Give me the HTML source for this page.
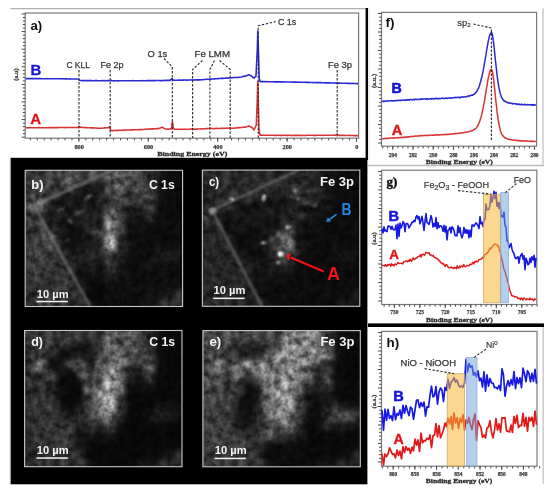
<!DOCTYPE html><html><head><meta charset="utf-8"><style>html,body{margin:0;padding:0;background:#fff;width:550px;height:493px;overflow:hidden}svg{display:block}</style></head><body><svg width="550" height="493" viewBox="0 0 550 493">
<rect width="550" height="493" fill="#fff"/>
<path d="M10.5,8.6 H366" stroke="#b0b0b0" stroke-width="1.4"/>
<rect x="365.6" y="8" width="2.4" height="152" fill="#000"/>
<rect x="25.2" y="13" width="333.40000000000003" height="125.19999999999999" fill="none" stroke="#7a7a7a" stroke-width="1.2"/>
<path d="M21.60,14.00 H25.2 M22.80,17.52 H25.2 M22.80,21.04 H25.2 M22.80,24.56 H25.2 M22.80,28.08 H25.2 M21.60,31.60 H25.2 M22.80,35.12 H25.2 M22.80,38.64 H25.2 M22.80,42.16 H25.2 M22.80,45.68 H25.2 M21.60,49.20 H25.2 M22.80,52.72 H25.2 M22.80,56.24 H25.2 M22.80,59.76 H25.2 M22.80,63.28 H25.2 M21.60,66.80 H25.2 M22.80,70.32 H25.2 M22.80,73.84 H25.2 M22.80,77.36 H25.2 M22.80,80.88 H25.2 M21.60,84.40 H25.2 M22.80,87.92 H25.2 M22.80,91.44 H25.2 M22.80,94.96 H25.2 M22.80,98.48 H25.2 M21.60,102.00 H25.2 M22.80,105.52 H25.2 M22.80,109.04 H25.2 M22.80,112.56 H25.2 M22.80,116.08 H25.2 M21.60,119.60 H25.2 M22.80,123.12 H25.2 M22.80,126.64 H25.2 M22.80,130.16 H25.2 M22.80,133.68 H25.2 M21.60,137.20 H25.2" stroke="#4a4a4a" stroke-width="1" fill="none"/>
<path d="M30.32,138.2 V140.40 M37.26,138.2 V140.40 M44.20,138.2 V140.40 M51.14,138.2 V140.40 M58.08,138.2 V140.40 M65.02,138.2 V140.40 M71.96,138.2 V140.40 M78.90,138.2 V140.40 M85.84,138.2 V140.40 M92.78,138.2 V140.40 M99.72,138.2 V140.40 M106.66,138.2 V140.40 M113.60,138.2 V140.40 M120.54,138.2 V140.40 M127.48,138.2 V140.40 M134.42,138.2 V140.40 M141.36,138.2 V140.40 M148.30,138.2 V140.40 M155.24,138.2 V140.40 M162.18,138.2 V140.40 M169.12,138.2 V140.40 M176.06,138.2 V140.40 M183.00,138.2 V140.40 M189.94,138.2 V140.40 M196.88,138.2 V140.40 M203.82,138.2 V140.40 M210.76,138.2 V140.40 M217.70,138.2 V140.40 M224.64,138.2 V140.40 M231.58,138.2 V140.40 M238.52,138.2 V140.40 M245.46,138.2 V140.40 M252.40,138.2 V140.40 M259.34,138.2 V140.40 M266.28,138.2 V140.40 M273.22,138.2 V140.40 M280.16,138.2 V140.40 M287.10,138.2 V140.40 M294.04,138.2 V140.40 M300.98,138.2 V140.40 M307.92,138.2 V140.40 M314.86,138.2 V140.40 M321.80,138.2 V140.40 M328.74,138.2 V140.40 M335.68,138.2 V140.40 M342.62,138.2 V140.40 M349.56,138.2 V140.40 M356.50,138.2 V140.40 M78.90,138.2 V141.80 M148.30,138.2 V141.80 M217.70,138.2 V141.80 M287.10,138.2 V141.80 M356.50,138.2 V141.80" stroke="#4a4a4a" stroke-width="1" fill="none"/>
<text x="79.1" y="148.8" font-size="6.2" fill="#3c3c3c" font-weight="bold" font-family="'Liberation Serif', 'Times New Roman', serif" text-anchor="middle"  textLength="9.45" lengthAdjust="spacingAndGlyphs" stroke="#3c3c3c" stroke-width="0.25">800</text>
<text x="148.5" y="148.8" font-size="6.2" fill="#3c3c3c" font-weight="bold" font-family="'Liberation Serif', 'Times New Roman', serif" text-anchor="middle"  textLength="9.45" lengthAdjust="spacingAndGlyphs" stroke="#3c3c3c" stroke-width="0.25">600</text>
<text x="217.9" y="148.8" font-size="6.2" fill="#3c3c3c" font-weight="bold" font-family="'Liberation Serif', 'Times New Roman', serif" text-anchor="middle"  textLength="9.45" lengthAdjust="spacingAndGlyphs" stroke="#3c3c3c" stroke-width="0.25">400</text>
<text x="287.3" y="148.8" font-size="6.2" fill="#3c3c3c" font-weight="bold" font-family="'Liberation Serif', 'Times New Roman', serif" text-anchor="middle"  textLength="9.45" lengthAdjust="spacingAndGlyphs" stroke="#3c3c3c" stroke-width="0.25">200</text>
<text x="356.7" y="148.8" font-size="6.2" fill="#3c3c3c" font-weight="bold" font-family="'Liberation Serif', 'Times New Roman', serif" text-anchor="middle"  textLength="3.15" lengthAdjust="spacingAndGlyphs" stroke="#3c3c3c" stroke-width="0.25">0</text>
<text x="157.3" y="156.0" font-size="6.9" fill="#2a2a2a" font-weight="bold" font-family="'Liberation Serif', 'Times New Roman', serif" text-anchor="start"  textLength="70" lengthAdjust="spacingAndGlyphs" stroke="#2a2a2a" stroke-width="0.3">Binding Energy (eV)</text>
<text x="16.2" y="74.6" font-size="6.6" fill="#333" font-weight="bold" font-family="'Liberation Serif', 'Times New Roman', serif" text-anchor="middle" transform="rotate(-90 16.2 74.6)" dy="2.2" textLength="12.4" lengthAdjust="spacingAndGlyphs" stroke="#333" stroke-width="0.2">(a.u)</text>
<text x="30.4" y="29.9" font-size="13.2" fill="#111" font-weight="bold" font-family="'Liberation Sans', Arial, sans-serif" text-anchor="start" >a)</text>
<text x="30.6" y="74.9" font-size="15" fill="#1414d8" font-weight="bold" font-family="'Liberation Sans', Arial, sans-serif" text-anchor="start"  stroke="#1414d8" stroke-width="0.3">B</text>
<text x="30.2" y="124.4" font-size="15" fill="#e0161c" font-weight="bold" font-family="'Liberation Sans', Arial, sans-serif" text-anchor="start"  stroke="#e0161c" stroke-width="0.3">A</text>
<path d="M25.50,78.58 L26.51,78.56 L27.53,78.63 L28.54,78.56 L29.56,78.63 L30.57,78.61 L31.59,78.57 L32.60,78.64 L33.62,78.58 L34.63,78.64 L35.65,78.60 L36.66,78.61 L37.68,78.66 L38.69,78.72 L39.71,78.63 L40.72,78.65 L41.74,78.71 L42.75,78.76 L43.76,78.72 L44.78,78.70 L45.79,78.78 L46.81,78.66 L47.82,78.78 L48.84,78.71 L49.85,78.69 L50.87,78.69 L51.88,78.73 L52.90,78.80 L53.91,78.72 L54.93,78.78 L55.94,78.80 L56.96,78.76 L57.97,78.79 L58.99,78.73 L60.00,78.74 L61.00,78.77 L62.00,78.85 L63.00,78.82 L64.00,78.82 L65.00,78.87 L66.00,78.86 L67.00,78.85 L68.00,78.93 L69.00,78.93 L70.00,78.88 L71.00,78.93 L72.00,78.94 L73.00,79.00 L74.00,78.99 L75.00,78.94 L76.00,79.05 L77.00,78.94 L78.00,78.99 L79.50,80.24 L81.00,80.55 L82.00,80.60 L83.00,80.54 L84.00,80.63 L85.00,80.65 L86.00,80.63 L87.00,80.67 L88.00,80.60 L89.00,80.65 L90.00,80.64 L91.00,80.65 L92.00,80.63 L93.00,80.69 L94.00,80.71 L95.00,80.64 L96.00,80.67 L97.00,80.59 L98.00,80.69 L99.00,80.68 L100.00,80.73 L101.00,80.71 L102.00,80.64 L103.00,80.66 L104.00,80.70 L105.00,80.62 L106.00,80.68 L107.00,80.64 L108.00,80.64 L109.00,80.63 L110.00,80.74 L111.00,80.35 L112.00,80.76 L113.00,80.78 L114.00,80.84 L115.00,80.73 L116.00,80.78 L117.00,80.79 L118.00,80.83 L119.00,80.82 L120.00,80.82 L121.00,80.73 L122.00,80.75 L123.00,80.73 L124.00,80.80 L125.00,80.81 L126.00,80.69 L127.00,80.69 L128.00,80.70 L129.00,80.69 L130.00,80.72 L131.00,80.73 L132.00,80.68 L133.00,80.64 L134.00,80.70 L135.00,80.69 L136.00,80.71 L137.00,80.76 L138.00,80.72 L139.00,80.69 L140.00,80.70 L141.00,80.70 L142.00,80.61 L143.00,80.73 L144.00,80.71 L145.00,80.71 L146.00,80.70 L147.00,80.64 L148.00,80.64 L149.00,80.59 L150.00,80.66 L151.00,80.58 L152.00,80.57 L153.00,80.59 L154.00,80.58 L155.00,80.60 L156.00,80.55 L157.00,80.54 L158.00,80.56 L159.00,80.55 L160.00,80.58 L161.00,80.50 L162.00,80.59 L163.00,80.53 L164.00,80.43 L165.00,80.42 L166.00,80.40 L167.00,80.37 L168.00,80.31 L169.00,80.38 L170.00,80.37 L171.00,79.45 L172.00,78.60 L173.50,80.24 L174.52,80.23 L175.54,80.24 L176.56,80.21 L177.58,80.27 L178.60,80.16 L179.62,80.12 L180.63,80.23 L181.65,80.15 L182.67,80.08 L183.69,80.11 L184.71,80.02 L185.73,80.07 L186.75,80.12 L187.77,80.08 L188.79,80.04 L189.81,79.96 L190.83,79.95 L191.85,79.91 L192.87,79.97 L193.88,79.92 L194.90,79.94 L195.92,79.85 L196.94,79.82 L197.96,79.88 L198.98,79.89 L200.00,79.85 L201.00,79.78 L202.00,79.71 L203.00,79.64 L204.00,79.50 L205.00,79.48 L206.00,79.39 L207.00,79.28 L208.00,79.21 L209.00,79.18 L210.00,79.12 L211.00,79.11 L212.00,79.08 L213.00,78.95 L214.00,78.95 L215.00,78.89 L216.00,78.82 L217.00,78.68 L218.00,78.59 L219.00,78.53 L220.00,78.46 L221.00,78.39 L222.00,78.39 L223.00,78.36 L224.00,78.29 L225.00,78.17 L226.00,78.13 L227.00,78.09 L228.00,77.92 L229.00,77.94 L230.00,77.91 L231.00,77.82 L232.00,77.76 L233.00,77.65 L234.00,77.54 L235.00,77.57 L236.00,77.44 L237.00,77.44 L238.00,77.40 L239.00,77.25 L240.00,77.19 L241.00,77.06 L242.00,76.83 L243.00,76.55 L244.00,76.35 L245.00,76.15 L246.00,75.86 L247.00,75.44 L248.00,74.95 L249.00,74.65 L250.00,75.30 L251.00,75.89 L252.00,76.48 L253.00,77.36 L254.00,78.15 L255.00,77.03 L256.00,76.07 L257.30,50.02 L257.80,31.00 L258.40,50.06 L259.20,77.99 L260.00,81.65 L261.00,81.66 L262.00,81.59 L263.00,81.61 L264.00,81.63 L265.00,81.64 L266.00,81.70 L267.00,81.67 L268.00,81.71 L269.00,81.68 L270.00,81.81 L271.00,81.74 L272.00,81.77 L273.00,81.81 L274.00,81.87 L275.00,81.81 L276.00,81.90 L277.00,81.86 L278.00,81.87 L279.00,81.89 L280.00,81.83 L281.00,81.91 L282.00,81.89 L283.00,81.88 L284.00,82.00 L285.00,81.93 L286.00,81.99 L287.00,82.04 L288.00,82.03 L289.00,82.01 L290.00,82.05 L291.00,82.07 L292.00,82.12 L293.00,82.04 L294.00,82.12 L295.00,82.09 L296.00,82.11 L297.00,82.19 L298.00,82.17 L299.00,82.19 L300.00,82.24 L301.00,82.28 L302.00,82.24 L303.00,82.29 L304.00,82.30 L305.00,82.32 L306.00,82.37 L307.00,82.36 L308.00,82.40 L309.00,82.41 L310.00,82.50 L311.00,82.49 L312.00,82.54 L313.00,82.58 L314.00,82.50 L315.00,82.57 L316.00,82.65 L317.00,82.66 L318.00,82.58 L319.00,82.61 L320.00,82.67 L321.00,82.65 L322.00,82.69 L323.00,82.70 L324.00,82.80 L325.00,82.84 L326.00,82.88 L327.00,82.80 L328.00,82.91 L329.00,82.92 L330.00,82.87 L331.00,83.00 L332.00,83.04 L333.00,82.96 L334.00,83.08 L335.00,83.03 L336.00,83.07 L337.00,83.16 L338.00,83.16 L339.00,83.09 L340.00,83.16 L341.00,83.19 L342.00,83.19 L343.00,83.20 L344.00,83.24 L345.00,83.32 L346.00,83.24 L347.00,83.34 L348.00,83.35 L349.00,83.32 L350.00,83.38 L351.00,83.45 L352.00,83.46 L353.00,83.42 L354.00,83.57 L355.00,83.57 L356.00,83.62 L357.00,83.52 L358.00,83.60" fill="none" stroke="#2a2ad4" stroke-width="1.6" stroke-linejoin="round" />
<path d="M25.50,127.77 L26.51,127.73 L27.53,127.83 L28.54,127.75 L29.56,127.72 L30.57,127.76 L31.59,127.82 L32.60,127.80 L33.62,127.72 L34.63,127.70 L35.65,127.80 L36.66,127.75 L37.68,127.76 L38.69,127.67 L39.71,127.66 L40.72,127.74 L41.74,127.70 L42.75,127.64 L43.76,127.76 L44.78,127.71 L45.79,127.72 L46.81,127.62 L47.82,127.72 L48.84,127.60 L49.85,127.71 L50.87,127.65 L51.88,127.62 L52.90,127.65 L53.91,127.70 L54.93,127.60 L55.94,127.57 L56.96,127.62 L57.97,127.58 L58.99,127.55 L60.00,127.55 L61.00,127.53 L62.00,127.55 L63.00,127.56 L64.00,127.55 L65.00,127.61 L66.00,127.54 L67.00,127.56 L68.00,127.51 L69.00,127.53 L70.00,127.48 L71.00,127.50 L72.00,127.47 L73.00,127.56 L74.00,127.53 L75.00,127.47 L76.00,127.51 L77.00,127.57 L78.00,127.44 L79.30,126.34 L80.50,127.29 L81.53,127.35 L82.55,127.45 L83.58,127.44 L84.61,127.51 L85.63,127.59 L86.66,127.68 L87.68,127.65 L88.71,127.77 L89.74,127.80 L90.76,127.85 L91.79,127.87 L92.82,127.91 L93.84,127.92 L94.87,127.99 L95.89,128.03 L96.92,128.18 L97.95,128.16 L98.97,128.20 L100.00,128.24 L101.06,128.26 L102.12,128.18 L103.19,128.06 L104.25,127.92 L105.31,127.83 L106.38,127.75 L107.44,127.68 L108.50,127.55 L109.60,126.59 L110.60,130.27 L112.00,130.66 L113.00,130.63 L114.00,130.54 L115.00,130.46 L116.00,130.52 L117.00,130.39 L118.00,130.37 L119.00,130.28 L120.00,130.30 L121.00,130.28 L122.00,130.24 L123.00,130.17 L124.00,130.17 L125.00,130.07 L126.00,130.07 L127.00,130.01 L128.00,130.01 L129.00,129.93 L130.00,129.89 L131.00,129.89 L132.00,129.85 L133.00,129.86 L134.00,129.82 L135.00,129.81 L136.00,129.76 L137.00,129.74 L138.00,129.72 L139.00,129.62 L140.00,129.58 L141.00,129.61 L142.00,129.44 L143.00,129.46 L144.00,129.39 L145.00,129.25 L146.00,129.30 L147.00,129.25 L148.00,129.15 L149.00,129.11 L150.00,129.06 L151.00,128.91 L152.00,128.91 L153.00,128.85 L154.00,128.84 L155.00,128.77 L156.00,128.72 L157.00,128.63 L158.00,128.61 L159.00,128.53 L160.00,128.09 L161.00,127.60 L162.00,127.13 L163.00,127.68 L164.00,128.25 L165.00,128.74 L166.00,129.01 L167.00,129.14 L168.00,129.32 L169.20,129.08 L170.40,128.86 L171.60,128.60 L172.40,121.53 L173.40,128.64 L175.00,129.33 L176.00,129.29 L177.00,129.29 L178.00,129.30 L179.00,129.21 L180.00,129.30 L181.00,129.23 L182.00,129.19 L183.00,129.21 L184.00,129.27 L185.00,129.19 L186.00,129.26 L187.00,129.29 L188.00,129.21 L189.00,129.19 L190.00,129.20 L191.25,128.93 L192.50,128.64 L194.00,129.32 L195.00,129.26 L196.00,129.13 L197.00,129.08 L198.00,129.04 L199.00,129.05 L200.00,128.93 L201.00,128.91 L202.00,128.77 L203.00,128.72 L204.00,128.70 L205.00,128.70 L206.00,128.64 L207.00,128.58 L208.00,128.47 L209.00,128.25 L210.00,128.00 L211.00,128.30 L212.00,128.55 L213.00,128.63 L214.00,128.51 L215.00,128.59 L216.00,128.56 L217.00,128.41 L218.00,128.44 L219.00,128.47 L220.00,128.47 L221.00,128.37 L222.00,128.32 L223.00,128.28 L224.00,128.36 L225.00,128.23 L226.00,128.26 L227.00,128.17 L228.00,128.20 L229.00,128.01 L230.00,127.65 L231.00,128.04 L232.00,128.30 L233.00,128.27 L234.00,128.16 L235.00,128.01 L236.00,128.02 L237.00,127.87 L238.00,127.73 L239.00,127.64 L240.00,127.62 L241.00,127.53 L242.00,127.43 L243.00,127.32 L244.00,127.26 L245.00,127.17 L246.00,126.92 L247.00,126.48 L248.00,126.26 L249.00,125.95 L250.00,126.38 L251.00,127.03 L252.00,127.53 L253.00,128.81 L254.00,129.97 L255.15,127.48 L256.30,124.99 L257.30,100.07 L257.70,81.51 L258.30,99.98 L259.00,129.99 L260.00,135.17 L261.00,135.14 L262.00,135.15 L263.00,135.26 L264.00,135.19 L265.00,135.29 L266.00,135.19 L267.00,135.20 L268.00,135.24 L269.00,135.20 L270.00,135.23 L271.00,135.32 L272.00,135.31 L273.00,135.31 L274.00,135.29 L275.00,135.33 L276.00,135.34 L277.00,135.29 L278.00,135.32 L279.00,135.23 L280.00,135.33 L281.00,135.30 L282.00,135.35 L283.00,135.34 L284.00,135.29 L285.00,135.26 L286.00,135.39 L287.00,135.28 L288.00,135.34 L289.00,135.32 L290.00,135.32 L291.00,135.39 L292.00,135.43 L293.00,135.33 L294.00,135.39 L295.00,135.35 L296.00,135.39 L297.00,135.37 L298.00,135.34 L299.00,135.35 L300.00,135.36 L301.00,135.45 L302.00,135.39 L303.00,135.34 L304.00,135.43 L305.00,135.44 L306.00,135.36 L307.00,135.31 L308.00,135.31 L309.00,135.29 L310.00,135.32 L311.00,135.28 L312.00,135.29 L313.00,135.29 L314.00,135.33 L315.00,135.37 L316.00,135.34 L317.00,135.29 L318.00,135.29 L319.00,135.29 L320.00,135.27 L321.00,135.26 L322.00,135.21 L323.00,135.24 L324.00,135.33 L325.00,135.20 L326.00,135.25 L327.00,135.26 L328.00,135.29 L329.00,135.19 L330.00,135.20 L331.00,135.19 L332.00,135.20 L333.00,135.20 L334.00,135.27 L335.00,135.25 L336.00,134.75 L337.00,134.13 L338.00,134.68 L339.00,135.33 L340.00,135.37 L341.00,135.33 L342.00,135.36 L343.00,135.29 L344.00,135.36 L345.00,135.45 L346.00,135.46 L347.00,135.48 L348.00,135.51 L349.00,135.42 L350.00,135.42 L351.00,135.44 L352.00,135.51 L353.00,135.55 L354.00,135.60 L355.00,135.58 L356.00,135.59 L357.00,135.62 L358.00,135.60" fill="none" stroke="#d83434" stroke-width="1.6" stroke-linejoin="round" />
<path d="M79.00,70.00 L79.00,138.00" fill="none" stroke="#2a2a2a" stroke-width="1.1" stroke-linejoin="round" stroke-dasharray="2.4,1.6"/>
<path d="M110.20,70.00 L110.20,138.00" fill="none" stroke="#2a2a2a" stroke-width="1.1" stroke-linejoin="round" stroke-dasharray="2.4,1.6"/>
<path d="M164.00,58.50 L172.30,67.00 L172.30,138.00" fill="none" stroke="#2a2a2a" stroke-width="1.1" stroke-linejoin="round" stroke-dasharray="2.4,1.6"/>
<path d="M202.50,60.50 L192.60,69.50 L192.60,138.00" fill="none" stroke="#2a2a2a" stroke-width="1.1" stroke-linejoin="round" stroke-dasharray="2.4,1.6"/>
<path d="M214.50,60.50 L209.90,69.50 L209.90,138.00" fill="none" stroke="#2a2a2a" stroke-width="1.1" stroke-linejoin="round" stroke-dasharray="2.4,1.6"/>
<path d="M219.50,60.50 L230.20,69.50 L230.20,138.00" fill="none" stroke="#2a2a2a" stroke-width="1.1" stroke-linejoin="round" stroke-dasharray="2.4,1.6"/>
<path d="M258.20,138.00 L258.20,25.80 L275.50,21.60" fill="none" stroke="#2a2a2a" stroke-width="1.1" stroke-linejoin="round" stroke-dasharray="2.4,1.6"/>
<path d="M337.20,70.00 L337.20,138.00" fill="none" stroke="#2a2a2a" stroke-width="1.1" stroke-linejoin="round" stroke-dasharray="2.4,1.6"/>
<text x="66.4" y="68.0" font-size="8.2" fill="#383838" font-weight="normal" font-family="'Liberation Sans', Arial, sans-serif" text-anchor="start"  textLength="23.5" lengthAdjust="spacingAndGlyphs" stroke="#383838" stroke-width="0.25">C KLL</text>
<text x="100.5" y="68.0" font-size="8.2" fill="#383838" font-weight="normal" font-family="'Liberation Sans', Arial, sans-serif" text-anchor="start"  textLength="23.1" lengthAdjust="spacingAndGlyphs" stroke="#383838" stroke-width="0.25">Fe 2p</text>
<text x="147.6" y="56.8" font-size="8.2" fill="#383838" font-weight="normal" font-family="'Liberation Sans', Arial, sans-serif" text-anchor="start"  textLength="19.7" lengthAdjust="spacingAndGlyphs" stroke="#383838" stroke-width="0.25">O 1s</text>
<text x="194.5" y="56.8" font-size="8.2" fill="#383838" font-weight="normal" font-family="'Liberation Sans', Arial, sans-serif" text-anchor="start"  textLength="35.5" lengthAdjust="spacingAndGlyphs" stroke="#383838" stroke-width="0.25">Fe LMM</text>
<text x="277.9" y="24.8" font-size="8.2" fill="#383838" font-weight="normal" font-family="'Liberation Sans', Arial, sans-serif" text-anchor="start"  textLength="18.3" lengthAdjust="spacingAndGlyphs" stroke="#383838" stroke-width="0.25">C 1s</text>
<text x="328.0" y="68.1" font-size="8.2" fill="#383838" font-weight="normal" font-family="'Liberation Sans', Arial, sans-serif" text-anchor="start"  textLength="24.0" lengthAdjust="spacingAndGlyphs" stroke="#383838" stroke-width="0.25">Fe 3p</text>
<path d="M369,8 V160" stroke="#dcdcdc" stroke-width="1"/>
<path d="M543.0,8.2 V166.3" stroke="#c4c4c4" stroke-width="1.3"/>
<path d="M368,165.6 H543.6" stroke="#bdbdbd" stroke-width="1.5"/>
<rect x="368" y="323.4" width="176" height="3.6" fill="#000"/>
<path d="M543.2,327 V484" stroke="#c4c4c4" stroke-width="1.3"/>
<rect x="381.5" y="12.4" width="155.10000000000002" height="133.79999999999998" fill="none" stroke="#7a7a7a" stroke-width="1.2"/>
<path d="M377.90,13.50 H381.5 M379.10,17.20 H381.5 M379.10,20.90 H381.5 M379.10,24.60 H381.5 M379.10,28.30 H381.5 M377.90,32.00 H381.5 M379.10,35.70 H381.5 M379.10,39.40 H381.5 M379.10,43.10 H381.5 M379.10,46.80 H381.5 M377.90,50.50 H381.5 M379.10,54.20 H381.5 M379.10,57.90 H381.5 M379.10,61.60 H381.5 M379.10,65.30 H381.5 M377.90,69.00 H381.5 M379.10,72.70 H381.5 M379.10,76.40 H381.5 M379.10,80.10 H381.5 M379.10,83.80 H381.5 M377.90,87.50 H381.5 M379.10,91.20 H381.5 M379.10,94.90 H381.5 M379.10,98.60 H381.5 M379.10,102.30 H381.5 M377.90,106.00 H381.5 M379.10,109.70 H381.5 M379.10,113.40 H381.5 M379.10,117.10 H381.5 M379.10,120.80 H381.5 M377.90,124.50 H381.5 M379.10,128.20 H381.5 M379.10,131.90 H381.5 M379.10,135.60 H381.5 M379.10,139.30 H381.5 M377.90,143.00 H381.5" stroke="#4a4a4a" stroke-width="1" fill="none"/>
<path d="M382.68,146.2 V148.40 M387.74,146.2 V148.40 M392.80,146.2 V148.40 M397.86,146.2 V148.40 M402.92,146.2 V148.40 M407.98,146.2 V148.40 M413.04,146.2 V148.40 M418.10,146.2 V148.40 M423.16,146.2 V148.40 M428.22,146.2 V148.40 M433.28,146.2 V148.40 M438.34,146.2 V148.40 M443.40,146.2 V148.40 M448.46,146.2 V148.40 M453.52,146.2 V148.40 M458.58,146.2 V148.40 M463.64,146.2 V148.40 M468.70,146.2 V148.40 M473.76,146.2 V148.40 M478.82,146.2 V148.40 M483.88,146.2 V148.40 M488.94,146.2 V148.40 M494.00,146.2 V148.40 M499.06,146.2 V148.40 M504.12,146.2 V148.40 M509.18,146.2 V148.40 M514.24,146.2 V148.40 M519.30,146.2 V148.40 M524.36,146.2 V148.40 M529.42,146.2 V148.40 M534.48,146.2 V148.40 M392.80,146.2 V149.80 M413.04,146.2 V149.80 M433.28,146.2 V149.80 M453.52,146.2 V149.80 M473.76,146.2 V149.80 M494.00,146.2 V149.80 M514.24,146.2 V149.80 M534.48,146.2 V149.80" stroke="#4a4a4a" stroke-width="1" fill="none"/>
<text x="392.8" y="156.9" font-size="5.3" fill="#3c3c3c" font-weight="bold" font-family="'Liberation Serif', 'Times New Roman', serif" text-anchor="middle"  textLength="8.100000000000001" lengthAdjust="spacingAndGlyphs" stroke="#3c3c3c" stroke-width="0.25">294</text>
<text x="413.0" y="156.9" font-size="5.3" fill="#3c3c3c" font-weight="bold" font-family="'Liberation Serif', 'Times New Roman', serif" text-anchor="middle"  textLength="8.100000000000001" lengthAdjust="spacingAndGlyphs" stroke="#3c3c3c" stroke-width="0.25">292</text>
<text x="433.3" y="156.9" font-size="5.3" fill="#3c3c3c" font-weight="bold" font-family="'Liberation Serif', 'Times New Roman', serif" text-anchor="middle"  textLength="8.100000000000001" lengthAdjust="spacingAndGlyphs" stroke="#3c3c3c" stroke-width="0.25">290</text>
<text x="453.5" y="156.9" font-size="5.3" fill="#3c3c3c" font-weight="bold" font-family="'Liberation Serif', 'Times New Roman', serif" text-anchor="middle"  textLength="8.100000000000001" lengthAdjust="spacingAndGlyphs" stroke="#3c3c3c" stroke-width="0.25">288</text>
<text x="473.8" y="156.9" font-size="5.3" fill="#3c3c3c" font-weight="bold" font-family="'Liberation Serif', 'Times New Roman', serif" text-anchor="middle"  textLength="8.100000000000001" lengthAdjust="spacingAndGlyphs" stroke="#3c3c3c" stroke-width="0.25">286</text>
<text x="494.0" y="156.9" font-size="5.3" fill="#3c3c3c" font-weight="bold" font-family="'Liberation Serif', 'Times New Roman', serif" text-anchor="middle"  textLength="8.100000000000001" lengthAdjust="spacingAndGlyphs" stroke="#3c3c3c" stroke-width="0.25">284</text>
<text x="514.2" y="156.9" font-size="5.3" fill="#3c3c3c" font-weight="bold" font-family="'Liberation Serif', 'Times New Roman', serif" text-anchor="middle"  textLength="8.100000000000001" lengthAdjust="spacingAndGlyphs" stroke="#3c3c3c" stroke-width="0.25">282</text>
<text x="534.5" y="156.9" font-size="5.3" fill="#3c3c3c" font-weight="bold" font-family="'Liberation Serif', 'Times New Roman', serif" text-anchor="middle"  textLength="8.100000000000001" lengthAdjust="spacingAndGlyphs" stroke="#3c3c3c" stroke-width="0.25">280</text>
<text x="425.8" y="163.7" font-size="6.9" fill="#2a2a2a" font-weight="bold" font-family="'Liberation Serif', 'Times New Roman', serif" text-anchor="start"  textLength="67" lengthAdjust="spacingAndGlyphs" stroke="#2a2a2a" stroke-width="0.3">Binding Energy (eV)</text>
<text x="373.8" y="81" font-size="6.6" fill="#333" font-weight="bold" font-family="'Liberation Serif', 'Times New Roman', serif" text-anchor="middle" transform="rotate(-90 373.8 81)" dy="2.2" textLength="14" lengthAdjust="spacingAndGlyphs" stroke="#333" stroke-width="0.2">(a.u.)</text>
<text x="385.5" y="27.0" font-size="13.4" fill="#111" font-weight="bold" font-family="'Liberation Sans', Arial, sans-serif" text-anchor="start" >f)</text>
<text x="391.5" y="92.8" font-size="14.2" fill="#1414d8" font-weight="bold" font-family="'Liberation Sans', Arial, sans-serif" text-anchor="start"  stroke="#1414d8" stroke-width="0.6">B</text>
<text x="391.8" y="134.7" font-size="14.6" fill="#e0161c" font-weight="bold" font-family="'Liberation Sans', Arial, sans-serif" text-anchor="start"  stroke="#e0161c" stroke-width="0.4">A</text>
<path d="M382.00,101.33 L382.50,101.37 L383.00,100.98 L383.50,101.48 L384.00,101.06 L384.50,101.52 L385.00,101.30 L385.50,101.03 L386.00,100.88 L386.50,100.94 L387.00,101.18 L387.50,101.20 L388.00,100.76 L388.50,100.70 L389.00,100.99 L389.50,101.00 L390.00,100.84 L390.50,100.70 L391.00,100.93 L391.50,100.49 L392.00,100.67 L392.50,100.75 L393.00,101.07 L393.50,100.82 L394.00,100.96 L394.50,100.65 L395.00,100.45 L395.50,100.43 L396.00,100.91 L396.50,100.70 L397.00,100.39 L397.50,100.16 L398.00,100.47 L398.50,100.56 L399.00,100.36 L399.50,100.22 L400.00,100.47 L400.50,100.63 L401.00,100.11 L401.50,99.95 L402.00,100.13 L402.50,100.16 L403.00,100.31 L403.50,99.95 L404.00,100.34 L404.50,100.27 L405.00,100.07 L405.50,99.84 L406.00,100.34 L406.50,99.85 L407.00,100.18 L407.50,99.74 L408.00,99.70 L408.50,100.05 L409.00,99.70 L409.50,100.13 L410.00,99.78 L410.50,99.53 L411.00,99.53 L411.50,99.64 L412.00,99.78 L412.50,99.95 L413.00,99.36 L413.50,99.50 L414.00,99.35 L414.50,99.85 L415.00,99.24 L415.50,99.14 L416.00,99.12 L416.50,99.32 L417.00,99.65 L417.50,99.61 L418.00,99.47 L418.50,99.63 L419.00,99.55 L419.50,99.10 L420.00,98.97 L420.50,99.48 L421.00,99.33 L421.50,98.81 L422.00,99.24 L422.50,99.03 L423.00,99.01 L423.50,98.97 L424.00,98.84 L424.50,98.71 L425.00,98.88 L425.50,98.92 L426.00,99.33 L426.50,98.73 L427.00,99.30 L427.50,98.75 L428.00,98.84 L428.50,99.15 L429.00,99.14 L429.50,98.85 L430.00,98.56 L430.50,98.84 L431.00,98.76 L431.50,99.12 L432.00,98.59 L432.50,98.70 L433.00,99.05 L433.50,98.43 L434.00,98.68 L434.50,98.94 L435.00,98.89 L435.50,98.36 L436.00,98.34 L436.50,98.34 L437.00,98.92 L437.50,98.44 L438.00,98.76 L438.50,98.84 L439.00,98.43 L439.50,98.37 L440.00,98.82 L440.50,98.56 L441.00,98.29 L441.50,98.59 L442.00,98.29 L442.50,98.24 L443.00,98.02 L443.50,98.52 L444.00,98.61 L444.50,98.39 L445.00,98.58 L445.50,97.91 L446.00,98.03 L446.50,98.18 L447.00,98.49 L447.50,98.46 L448.00,98.03 L448.50,97.91 L449.00,98.01 L449.50,98.02 L450.00,98.29 L450.50,97.74 L451.00,98.14 L451.50,98.06 L452.00,98.09 L452.50,98.02 L453.00,97.87 L453.50,97.64 L454.00,97.59 L454.50,97.58 L455.00,97.84 L455.50,97.32 L456.00,97.38 L456.50,97.74 L457.00,97.36 L457.50,97.20 L458.00,97.15 L458.50,97.48 L459.00,97.28 L459.50,97.70 L460.00,97.60 L460.50,97.63 L461.00,97.08 L461.50,96.91 L462.00,96.87 L462.50,97.10 L463.00,97.19 L463.50,96.95 L464.00,96.74 L464.50,96.81 L465.00,96.88 L465.50,96.84 L466.00,96.82 L466.50,96.80 L467.00,96.58 L467.50,96.10 L468.00,96.50 L468.50,96.00 L469.00,96.06 L469.50,95.79 L470.00,95.89 L470.50,95.42 L471.00,95.35 L471.50,95.22 L472.00,95.00 L472.50,95.32 L473.00,94.88 L473.50,94.43 L474.00,94.17 L474.50,94.21 L475.00,93.44 L475.50,92.74 L476.00,92.56 L476.50,91.78 L477.00,91.25 L477.50,89.76 L478.00,89.03 L478.50,88.16 L479.00,86.94 L479.50,85.60 L480.00,83.46 L480.50,81.96 L481.00,80.00 L481.50,78.06 L482.00,76.46 L482.50,73.88 L483.00,71.67 L483.50,68.69 L484.00,66.32 L484.50,63.21 L485.00,60.16 L485.50,57.55 L486.00,54.66 L486.50,51.07 L487.00,48.46 L487.50,45.62 L488.00,42.63 L488.50,40.23 L489.00,37.82 L489.50,35.95 L490.00,34.44 L490.50,33.57 L491.00,32.97 L491.50,32.52 L492.00,33.22 L492.50,35.41 L493.00,38.61 L493.50,42.01 L494.00,46.41 L494.50,51.01 L495.00,56.26 L495.50,60.95 L496.00,65.36 L496.50,69.92 L497.00,74.38 L497.50,78.41 L498.00,82.04 L498.50,84.85 L499.00,87.72 L499.50,90.56 L500.00,92.49 L500.50,94.15 L501.00,95.63 L501.50,97.31 L502.00,97.88 L502.50,98.90 L503.00,99.46 L503.50,100.08 L504.00,100.87 L504.50,101.37 L505.00,101.26 L505.50,101.44 L506.00,102.06 L506.50,101.91 L507.00,101.96 L507.50,102.76 L508.00,102.58 L508.50,103.00 L509.00,102.84 L509.50,103.29 L510.00,103.11 L510.50,103.00 L511.00,102.99 L511.50,103.46 L512.00,103.60 L512.50,103.87 L513.00,103.37 L513.50,103.81 L514.00,103.70 L514.50,103.85 L515.00,103.66 L515.50,103.81 L516.00,104.03 L516.50,104.36 L517.00,103.84 L517.50,104.15 L518.00,104.41 L518.50,104.57 L519.00,104.07 L519.50,104.06 L520.00,104.66 L520.50,104.72 L521.00,104.41 L521.50,104.14 L522.00,104.78 L522.50,104.43 L523.00,104.82 L523.50,104.65 L524.00,104.82 L524.50,104.38 L525.00,104.84 L525.50,104.47 L526.00,104.62 L526.50,104.95 L527.00,104.96 L527.50,104.53 L528.00,104.58 L528.50,104.72 L529.00,104.83 L529.50,104.75 L530.00,104.59 L530.50,104.69 L531.00,105.04 L531.50,105.18 L532.00,104.60 L532.50,104.98 L533.00,105.13 L533.50,104.64 L534.00,105.22 L534.50,104.73 L535.00,105.08 L535.50,105.06 L536.00,105.12" fill="none" stroke="#2a2ad4" stroke-width="1.5" stroke-linejoin="round" />
<path d="M382.00,138.69 L382.50,138.70 L383.00,138.73 L383.50,138.64 L384.00,138.70 L384.50,138.58 L385.00,138.54 L385.50,138.34 L386.00,138.54 L386.50,138.46 L387.00,138.32 L387.50,138.50 L388.00,138.47 L388.50,138.31 L389.00,138.16 L389.50,138.25 L390.00,138.07 L390.50,138.04 L391.00,138.13 L391.50,137.96 L392.00,138.07 L392.50,138.06 L393.00,137.84 L393.50,138.04 L394.00,137.78 L394.50,138.01 L395.00,137.99 L395.50,137.85 L396.00,137.64 L396.50,137.78 L397.00,137.70 L397.50,137.89 L398.00,137.53 L398.50,137.79 L399.00,137.81 L399.50,137.67 L400.00,137.67 L400.50,137.38 L401.00,137.66 L401.50,137.43 L402.00,137.58 L402.50,137.53 L403.00,137.20 L403.50,137.41 L404.00,137.43 L404.50,137.05 L405.00,137.13 L405.50,137.25 L406.00,136.96 L406.50,137.20 L407.00,136.91 L407.50,137.07 L408.00,136.76 L408.50,136.85 L409.00,136.97 L409.50,136.63 L410.00,136.61 L410.50,136.65 L411.00,136.53 L411.50,136.37 L412.00,136.38 L412.50,136.32 L413.00,136.58 L413.50,136.43 L414.00,136.46 L414.50,136.12 L415.00,136.32 L415.50,136.00 L416.00,136.12 L416.50,136.11 L417.00,135.95 L417.50,136.10 L418.00,135.93 L418.50,135.89 L419.00,135.96 L419.50,135.60 L420.00,135.90 L420.50,135.74 L421.00,135.62 L421.50,135.76 L422.00,135.53 L422.50,135.80 L423.00,135.62 L423.50,135.51 L424.00,135.65 L424.50,135.50 L425.00,135.38 L425.50,135.58 L426.00,135.29 L426.50,135.57 L427.00,135.33 L427.50,135.46 L428.00,135.58 L428.50,135.40 L429.00,135.41 L429.50,135.25 L430.00,135.10 L430.50,135.09 L431.00,135.12 L431.50,135.28 L432.00,135.19 L432.50,135.20 L433.00,135.33 L433.50,135.00 L434.00,135.02 L434.50,135.16 L435.00,134.89 L435.50,134.86 L436.00,134.98 L436.50,134.85 L437.00,134.93 L437.50,134.85 L438.00,134.97 L438.50,134.95 L439.00,134.77 L439.50,134.91 L440.00,134.83 L440.50,134.66 L441.00,134.95 L441.50,134.64 L442.00,134.57 L442.50,134.52 L443.00,134.70 L443.50,134.76 L444.00,134.69 L444.50,134.51 L445.00,134.42 L445.50,134.28 L446.00,134.50 L446.50,134.43 L447.00,134.31 L447.50,134.40 L448.00,134.28 L448.50,134.44 L449.00,134.32 L449.50,134.09 L450.00,134.31 L450.50,133.92 L451.00,134.08 L451.50,133.99 L452.00,133.88 L452.50,133.76 L453.00,134.01 L453.50,133.66 L454.00,133.82 L454.50,133.93 L455.00,133.57 L455.50,133.54 L456.00,133.65 L456.50,133.56 L457.00,133.56 L457.50,133.58 L458.00,133.27 L458.50,133.26 L459.00,133.20 L459.50,133.04 L460.00,133.31 L460.50,133.21 L461.00,133.12 L461.50,132.77 L462.00,133.04 L462.50,132.93 L463.00,132.75 L463.50,132.78 L464.00,132.59 L464.50,132.41 L465.00,132.28 L465.50,132.24 L466.00,132.07 L466.50,132.09 L467.00,132.15 L467.50,132.01 L468.00,131.95 L468.50,131.77 L469.00,131.46 L469.50,131.42 L470.00,131.21 L470.50,131.18 L471.00,130.88 L471.50,130.56 L472.00,130.47 L472.50,130.47 L473.00,130.01 L473.50,130.07 L474.00,129.48 L474.50,129.29 L475.00,128.92 L475.50,128.71 L476.00,128.30 L476.50,127.64 L477.00,126.81 L477.50,126.26 L478.00,125.16 L478.50,124.12 L479.00,123.25 L479.50,121.87 L480.00,120.47 L480.50,118.88 L481.00,117.27 L481.50,115.16 L482.00,113.25 L482.50,110.96 L483.00,108.64 L483.50,105.93 L484.00,103.37 L484.50,100.51 L485.00,97.50 L485.50,94.49 L486.00,91.63 L486.50,88.38 L487.00,85.72 L487.50,82.50 L488.00,79.67 L488.50,77.13 L489.00,75.15 L489.50,72.93 L490.00,71.25 L490.50,70.05 L491.00,69.38 L491.50,69.50 L492.00,70.31 L492.50,72.28 L493.00,75.22 L493.50,78.67 L494.00,83.15 L494.50,87.70 L495.00,92.69 L495.50,97.52 L496.00,102.27 L496.50,106.46 L497.00,111.03 L497.50,114.96 L498.00,118.54 L498.50,121.40 L499.00,124.26 L499.50,126.70 L500.00,128.82 L500.50,130.88 L501.00,132.33 L501.50,133.48 L502.00,134.57 L502.50,135.34 L503.00,135.89 L503.50,136.39 L504.00,136.87 L504.50,137.54 L505.00,137.65 L505.50,137.99 L506.00,138.28 L506.50,138.34 L507.00,138.62 L507.50,138.81 L508.00,139.13 L508.50,139.13 L509.00,139.24 L509.50,139.62 L510.00,139.55 L510.50,139.79 L511.00,139.79 L511.50,139.64 L512.00,139.88 L512.50,139.96 L513.00,140.17 L513.50,140.07 L514.00,140.28 L514.50,140.27 L515.00,140.20 L515.50,140.51 L516.00,140.26 L516.50,140.60 L517.00,140.39 L517.50,140.36 L518.00,140.49 L518.50,140.75 L519.00,140.88 L519.50,140.52 L520.00,140.75 L520.50,140.79 L521.00,140.94 L521.50,140.73 L522.00,140.88 L522.50,140.85 L523.00,141.08 L523.50,140.87 L524.00,141.17 L524.50,140.93 L525.00,140.93 L525.50,141.15 L526.00,141.09 L526.50,140.96 L527.00,141.19 L527.50,140.99 L528.00,141.29 L528.50,141.27 L529.00,141.33 L529.50,141.28 L530.00,141.19 L530.50,141.23 L531.00,141.24 L531.50,141.46 L532.00,141.15 L532.50,141.49 L533.00,141.16 L533.50,141.25 L534.00,141.29 L534.50,141.56 L535.00,141.41 L535.50,141.38 L536.00,141.59" fill="none" stroke="#d83434" stroke-width="1.5" stroke-linejoin="round" />
<path d="M491.40,140.00 L491.40,28.00 L473.60,24.10" fill="none" stroke="#2a2a2a" stroke-width="1.1" stroke-linejoin="round" stroke-dasharray="2.4,1.6"/>
<text x="457.3" y="25.5" font-size="9.4" fill="#383838" stroke="#383838" stroke-width="0.2" font-family="'Liberation Sans', Arial, sans-serif">sp<tspan font-size="6.2" dy="1.8">2</tspan></text>
<rect x="381.7" y="170.2" width="155.09999999999997" height="134.3" fill="none" stroke="#7a7a7a" stroke-width="1.2"/>
<path d="M378.10,171.50 H381.7 M379.30,175.20 H381.7 M379.30,178.90 H381.7 M379.30,182.60 H381.7 M379.30,186.30 H381.7 M378.10,190.00 H381.7 M379.30,193.70 H381.7 M379.30,197.40 H381.7 M379.30,201.10 H381.7 M379.30,204.80 H381.7 M378.10,208.50 H381.7 M379.30,212.20 H381.7 M379.30,215.90 H381.7 M379.30,219.60 H381.7 M379.30,223.30 H381.7 M378.10,227.00 H381.7 M379.30,230.70 H381.7 M379.30,234.40 H381.7 M379.30,238.10 H381.7 M379.30,241.80 H381.7 M378.10,245.50 H381.7 M379.30,249.20 H381.7 M379.30,252.90 H381.7 M379.30,256.60 H381.7 M379.30,260.30 H381.7 M378.10,264.00 H381.7 M379.30,267.70 H381.7 M379.30,271.40 H381.7 M379.30,275.10 H381.7 M379.30,278.80 H381.7 M378.10,282.50 H381.7 M379.30,286.20 H381.7 M379.30,289.90 H381.7 M379.30,293.60 H381.7 M379.30,297.30 H381.7 M378.10,301.00 H381.7" stroke="#4a4a4a" stroke-width="1" fill="none"/>
<path d="M384.10,304.5 V306.70 M389.20,304.5 V306.70 M394.30,304.5 V306.70 M399.40,304.5 V306.70 M404.50,304.5 V306.70 M409.60,304.5 V306.70 M414.70,304.5 V306.70 M419.80,304.5 V306.70 M424.90,304.5 V306.70 M430.00,304.5 V306.70 M435.10,304.5 V306.70 M440.20,304.5 V306.70 M445.30,304.5 V306.70 M450.40,304.5 V306.70 M455.50,304.5 V306.70 M460.60,304.5 V306.70 M465.70,304.5 V306.70 M470.80,304.5 V306.70 M475.90,304.5 V306.70 M481.00,304.5 V306.70 M486.10,304.5 V306.70 M491.20,304.5 V306.70 M496.30,304.5 V306.70 M501.40,304.5 V306.70 M506.50,304.5 V306.70 M511.60,304.5 V306.70 M516.70,304.5 V306.70 M521.80,304.5 V306.70 M526.90,304.5 V306.70 M532.00,304.5 V306.70 M537.10,304.5 V306.70 M394.30,304.5 V308.10 M419.80,304.5 V308.10 M445.30,304.5 V308.10 M470.80,304.5 V308.10 M496.30,304.5 V308.10 M521.80,304.5 V308.10" stroke="#4a4a4a" stroke-width="1" fill="none"/>
<text x="394.3" y="314.4" font-size="5.3" fill="#3c3c3c" font-weight="bold" font-family="'Liberation Serif', 'Times New Roman', serif" text-anchor="middle"  textLength="8.100000000000001" lengthAdjust="spacingAndGlyphs" stroke="#3c3c3c" stroke-width="0.25">730</text>
<text x="419.8" y="314.4" font-size="5.3" fill="#3c3c3c" font-weight="bold" font-family="'Liberation Serif', 'Times New Roman', serif" text-anchor="middle"  textLength="8.100000000000001" lengthAdjust="spacingAndGlyphs" stroke="#3c3c3c" stroke-width="0.25">725</text>
<text x="445.3" y="314.4" font-size="5.3" fill="#3c3c3c" font-weight="bold" font-family="'Liberation Serif', 'Times New Roman', serif" text-anchor="middle"  textLength="8.100000000000001" lengthAdjust="spacingAndGlyphs" stroke="#3c3c3c" stroke-width="0.25">720</text>
<text x="470.8" y="314.4" font-size="5.3" fill="#3c3c3c" font-weight="bold" font-family="'Liberation Serif', 'Times New Roman', serif" text-anchor="middle"  textLength="8.100000000000001" lengthAdjust="spacingAndGlyphs" stroke="#3c3c3c" stroke-width="0.25">715</text>
<text x="496.3" y="314.4" font-size="5.3" fill="#3c3c3c" font-weight="bold" font-family="'Liberation Serif', 'Times New Roman', serif" text-anchor="middle"  textLength="8.100000000000001" lengthAdjust="spacingAndGlyphs" stroke="#3c3c3c" stroke-width="0.25">710</text>
<text x="521.8" y="314.4" font-size="5.3" fill="#3c3c3c" font-weight="bold" font-family="'Liberation Serif', 'Times New Roman', serif" text-anchor="middle"  textLength="8.100000000000001" lengthAdjust="spacingAndGlyphs" stroke="#3c3c3c" stroke-width="0.25">705</text>
<text x="426.1" y="321.7" font-size="6.9" fill="#2a2a2a" font-weight="bold" font-family="'Liberation Serif', 'Times New Roman', serif" text-anchor="start"  textLength="66.6" lengthAdjust="spacingAndGlyphs" stroke="#2a2a2a" stroke-width="0.3">Binding Energy (eV)</text>
<text x="373.8" y="238.5" font-size="6.6" fill="#333" font-weight="bold" font-family="'Liberation Serif', 'Times New Roman', serif" text-anchor="middle" transform="rotate(-90 373.8 238.5)" dy="2.2" textLength="12.4" lengthAdjust="spacingAndGlyphs" stroke="#333" stroke-width="0.2">(a.u)</text>
<text x="386.6" y="185.6" font-size="12.8" fill="#111" font-weight="bold" font-family="'Liberation Serif', 'Times New Roman', serif" text-anchor="start"  stroke="#111" stroke-width="0.5">g)</text>
<text x="388.4" y="221.2" font-size="14.6" fill="#1414d8" font-weight="bold" font-family="'Liberation Sans', Arial, sans-serif" text-anchor="start"  stroke="#1414d8" stroke-width="0.5">B</text>
<text x="389.2" y="258.8" font-size="13.4" fill="#e0161c" font-weight="bold" font-family="'Liberation Sans', Arial, sans-serif" text-anchor="start"  stroke="#e0161c" stroke-width="0.4">A</text>
<path d="M382.00,228.59 L383.00,232.83 L384.00,226.84 L385.00,231.15 L386.00,230.26 L387.00,231.62 L388.00,226.08 L389.00,226.17 L390.00,226.59 L391.00,229.35 L392.00,226.36 L393.00,229.36 L394.00,230.00 L395.00,229.11 L396.00,225.10 L397.00,238.64 L398.00,224.05 L399.00,236.46 L400.00,223.08 L401.00,228.02 L402.00,225.58 L403.00,221.64 L404.00,223.03 L405.00,231.70 L406.00,223.67 L407.00,223.42 L408.00,224.40 L409.00,227.98 L410.00,226.07 L411.00,224.51 L412.00,222.09 L413.00,222.47 L414.00,220.52 L415.00,221.51 L416.00,216.91 L417.00,215.60 L418.00,218.89 L419.00,216.58 L420.00,223.91 L421.00,219.96 L422.00,216.34 L423.00,222.97 L424.00,230.37 L425.00,221.31 L426.00,213.65 L427.00,222.45 L428.00,223.23 L429.00,224.49 L430.00,220.82 L431.00,215.55 L432.00,219.44 L433.00,227.03 L434.00,223.56 L435.00,226.54 L436.00,217.48 L437.00,228.77 L438.00,222.68 L439.00,227.64 L440.00,225.80 L441.00,225.86 L442.00,227.29 L443.00,231.29 L444.00,225.41 L445.00,232.06 L446.00,226.18 L447.00,239.87 L448.00,230.35 L449.00,229.69 L450.00,227.45 L451.00,232.86 L452.00,226.71 L453.00,228.10 L454.00,230.43 L455.00,235.52 L456.00,235.61 L457.00,235.79 L458.00,225.84 L459.00,232.53 L460.00,227.62 L461.00,234.69 L462.00,237.97 L463.00,234.42 L464.00,227.43 L465.00,233.09 L466.00,229.56 L467.00,233.25 L468.00,230.09 L469.00,237.81 L470.00,230.19 L471.00,236.97 L472.00,225.04 L473.00,225.15 L474.00,226.28 L475.00,224.25 L476.00,222.87 L477.00,224.05 L478.00,225.97 L479.00,228.55 L480.00,216.57 L481.00,223.76 L482.00,222.40 L483.00,226.46 L484.00,219.30 L485.00,219.62 L486.00,204.08 L487.00,209.64 L488.00,209.78 L489.00,209.37 L490.00,204.70 L491.00,195.46 L492.00,202.02 L493.00,197.81 L494.00,191.19 L495.00,198.61 L496.00,192.28 L497.00,206.53 L498.00,202.24 L499.00,208.42 L500.00,202.67 L501.00,216.36 L502.00,215.50 L503.00,217.16 L504.00,212.12 L505.00,225.73 L506.00,227.01 L507.00,240.87 L508.00,240.36 L509.00,247.95 L510.00,245.97 L511.00,243.51 L512.00,249.21 L513.00,251.94 L514.00,253.73 L515.00,257.25 L516.00,258.69 L517.00,257.69 L518.00,256.72 L519.00,263.20 L520.00,257.14 L521.00,255.20 L522.00,253.35 L523.00,259.10 L524.00,255.68 L525.00,269.72 L526.00,258.15 L527.00,260.91 L528.00,264.80 L529.00,264.00 L530.00,258.14 L531.00,262.40 L532.00,256.72 L533.00,259.67 L534.00,255.32 L535.00,267.11 L536.00,257.85" fill="none" stroke="#1818e4" stroke-width="1.6" stroke-linejoin="round" />
<path d="M382.00,264.91 L382.80,265.45 L383.60,265.67 L384.40,266.07 L385.20,264.69 L386.00,265.69 L386.80,266.39 L387.60,264.47 L388.40,265.21 L389.20,264.61 L390.00,264.13 L390.80,266.30 L391.60,263.75 L392.40,265.29 L393.20,264.62 L394.00,265.93 L394.80,264.39 L395.60,263.94 L396.40,264.86 L397.20,263.72 L398.00,262.37 L398.80,263.27 L399.60,263.58 L400.40,263.34 L401.20,263.22 L402.00,263.32 L402.80,263.92 L403.60,261.69 L404.40,261.72 L405.20,261.42 L406.00,260.96 L406.80,260.91 L407.60,261.79 L408.40,260.43 L409.20,261.29 L410.00,259.15 L410.80,260.78 L411.60,261.47 L412.40,258.91 L413.20,257.81 L414.00,259.65 L414.80,259.20 L415.60,258.20 L416.40,258.34 L417.20,257.44 L418.00,256.68 L418.80,256.26 L419.60,256.31 L420.40,254.46 L421.20,257.15 L422.00,254.44 L422.80,254.32 L423.60,254.09 L424.40,255.42 L425.20,254.02 L426.00,252.33 L426.80,252.64 L427.60,252.95 L428.40,253.38 L429.20,252.73 L430.00,255.01 L430.80,254.75 L431.60,255.67 L432.40,256.04 L433.20,255.32 L434.00,256.87 L434.80,257.55 L435.60,257.54 L436.40,258.44 L437.20,258.37 L438.00,259.41 L438.80,260.63 L439.60,260.55 L440.40,262.54 L441.20,263.14 L442.00,262.84 L442.80,264.07 L443.60,263.61 L444.40,265.36 L445.20,266.47 L446.00,264.43 L446.80,264.95 L447.60,265.96 L448.40,267.66 L449.20,267.75 L450.00,267.84 L450.80,267.00 L451.60,267.28 L452.40,268.07 L453.20,267.70 L454.00,268.59 L454.80,267.55 L455.60,268.12 L456.40,268.82 L457.20,265.63 L458.00,268.10 L458.80,268.14 L459.60,266.19 L460.40,267.26 L461.20,265.90 L462.00,266.54 L462.80,266.91 L463.60,264.42 L464.40,265.95 L465.20,266.70 L466.00,266.59 L466.80,265.85 L467.60,265.40 L468.40,265.82 L469.20,265.70 L470.00,264.19 L470.80,264.63 L471.60,264.63 L472.40,262.50 L473.20,262.39 L474.00,263.84 L474.80,261.58 L475.60,262.02 L476.40,261.06 L477.20,261.90 L478.00,261.60 L478.80,259.90 L479.60,259.45 L480.40,259.36 L481.20,259.08 L482.00,258.19 L482.80,257.20 L483.60,258.19 L484.40,254.70 L485.20,254.44 L486.00,254.06 L486.80,252.89 L487.60,253.21 L488.40,251.39 L489.20,249.91 L490.00,247.86 L490.80,248.75 L491.60,247.84 L492.40,246.95 L493.20,245.10 L494.00,245.14 L494.80,243.95 L495.60,244.34 L496.40,244.67 L497.20,244.60 L498.00,246.69 L498.80,246.26 L499.60,251.44 L500.40,252.01 L501.20,256.92 L502.00,259.93 L502.80,263.01 L503.60,267.83 L504.40,270.65 L505.20,271.67 L506.00,276.04 L506.80,277.49 L507.60,281.73 L508.40,283.74 L509.20,288.08 L510.00,290.81 L510.80,292.76 L511.60,295.60 L512.40,295.96 L513.20,295.70 L514.00,296.40 L514.80,297.01 L515.60,296.59 L516.40,296.90 L517.20,297.13 L518.00,298.74 L518.80,298.23 L519.60,298.31 L520.40,299.70 L521.20,297.99 L522.00,298.51 L522.80,300.19 L523.60,298.14 L524.40,298.09 L525.20,298.88 L526.00,299.73 L526.80,298.70 L527.60,299.25 L528.40,299.28 L529.20,299.63 L530.00,298.07 L530.80,299.39 L531.60,299.23 L532.40,298.87 L533.20,300.50 L534.00,300.50 L534.80,298.84 L535.60,299.30 L536.40,299.66" fill="none" stroke="#e01a1a" stroke-width="1.4" stroke-linejoin="round" />
<rect x="483.4" y="194.3" width="17.2" height="108.5" fill="#f7b733" fill-opacity="0.55" stroke="#c8a060" stroke-width="0.7"/>
<rect x="500.8" y="192.4" width="7.8" height="110.4" fill="#6a9fd8" fill-opacity="0.5" stroke="#8aaad0" stroke-width="0.7"/>
<path d="M458.00,190.60 L491.50,194.20" fill="none" stroke="#2a2a2a" stroke-width="1.1" stroke-linejoin="round" stroke-dasharray="2.4,1.6"/>
<path d="M505.30,192.60 L517.50,182.80" fill="none" stroke="#2a2a2a" stroke-width="1.1" stroke-linejoin="round" stroke-dasharray="2.4,1.6"/>
<text x="423.8" y="188.3" font-size="8.4" fill="#383838" stroke="#383838" stroke-width="0.2" font-family="'Liberation Sans', Arial, sans-serif" textLength="65.2" lengthAdjust="spacingAndGlyphs">Fe<tspan font-size="6.4" dy="1.8">2</tspan><tspan dy="-1.8">O</tspan><tspan font-size="6.4" dy="1.8">3</tspan><tspan dy="-1.8"> - FeOOH</tspan></text>
<text x="513.7" y="182.9" font-size="8.4" fill="#383838" font-weight="normal" font-family="'Liberation Sans', Arial, sans-serif" text-anchor="start"  textLength="17.2" lengthAdjust="spacingAndGlyphs" stroke="#383838" stroke-width="0.25">FeO</text>
<rect x="381.5" y="331.4" width="155.5" height="134.8" fill="none" stroke="#7a7a7a" stroke-width="1.2"/>
<path d="M377.90,332.50 H381.5 M379.10,336.20 H381.5 M379.10,339.90 H381.5 M379.10,343.60 H381.5 M379.10,347.30 H381.5 M377.90,351.00 H381.5 M379.10,354.70 H381.5 M379.10,358.40 H381.5 M379.10,362.10 H381.5 M379.10,365.80 H381.5 M377.90,369.50 H381.5 M379.10,373.20 H381.5 M379.10,376.90 H381.5 M379.10,380.60 H381.5 M379.10,384.30 H381.5 M377.90,388.00 H381.5 M379.10,391.70 H381.5 M379.10,395.40 H381.5 M379.10,399.10 H381.5 M379.10,402.80 H381.5 M377.90,406.50 H381.5 M379.10,410.20 H381.5 M379.10,413.90 H381.5 M379.10,417.60 H381.5 M379.10,421.30 H381.5 M377.90,425.00 H381.5 M379.10,428.70 H381.5 M379.10,432.40 H381.5 M379.10,436.10 H381.5 M379.10,439.80 H381.5 M377.90,443.50 H381.5 M379.10,447.20 H381.5 M379.10,450.90 H381.5 M379.10,454.60 H381.5 M379.10,458.30 H381.5 M377.90,462.00 H381.5" stroke="#4a4a4a" stroke-width="1" fill="none"/>
<path d="M382.35,466.2 V468.40 M387.77,466.2 V468.40 M393.20,466.2 V468.40 M398.62,466.2 V468.40 M404.05,466.2 V468.40 M409.48,466.2 V468.40 M414.90,466.2 V468.40 M420.32,466.2 V468.40 M425.75,466.2 V468.40 M431.18,466.2 V468.40 M436.60,466.2 V468.40 M442.02,466.2 V468.40 M447.45,466.2 V468.40 M452.88,466.2 V468.40 M458.30,466.2 V468.40 M463.73,466.2 V468.40 M469.15,466.2 V468.40 M474.57,466.2 V468.40 M480.00,466.2 V468.40 M485.43,466.2 V468.40 M490.85,466.2 V468.40 M496.27,466.2 V468.40 M501.70,466.2 V468.40 M507.12,466.2 V468.40 M512.55,466.2 V468.40 M517.98,466.2 V468.40 M523.40,466.2 V468.40 M528.83,466.2 V468.40 M534.25,466.2 V468.40 M539.67,466.2 V468.40 M393.20,466.2 V469.80 M414.90,466.2 V469.80 M436.60,466.2 V469.80 M458.30,466.2 V469.80 M480.00,466.2 V469.80 M501.70,466.2 V469.80 M523.40,466.2 V469.80" stroke="#4a4a4a" stroke-width="1" fill="none"/>
<text x="393.2" y="476.3" font-size="5.3" fill="#3c3c3c" font-weight="bold" font-family="'Liberation Serif', 'Times New Roman', serif" text-anchor="middle"  textLength="8.100000000000001" lengthAdjust="spacingAndGlyphs" stroke="#3c3c3c" stroke-width="0.25">860</text>
<text x="414.9" y="476.3" font-size="5.3" fill="#3c3c3c" font-weight="bold" font-family="'Liberation Serif', 'Times New Roman', serif" text-anchor="middle"  textLength="8.100000000000001" lengthAdjust="spacingAndGlyphs" stroke="#3c3c3c" stroke-width="0.25">858</text>
<text x="436.6" y="476.3" font-size="5.3" fill="#3c3c3c" font-weight="bold" font-family="'Liberation Serif', 'Times New Roman', serif" text-anchor="middle"  textLength="8.100000000000001" lengthAdjust="spacingAndGlyphs" stroke="#3c3c3c" stroke-width="0.25">856</text>
<text x="458.3" y="476.3" font-size="5.3" fill="#3c3c3c" font-weight="bold" font-family="'Liberation Serif', 'Times New Roman', serif" text-anchor="middle"  textLength="8.100000000000001" lengthAdjust="spacingAndGlyphs" stroke="#3c3c3c" stroke-width="0.25">854</text>
<text x="480.0" y="476.3" font-size="5.3" fill="#3c3c3c" font-weight="bold" font-family="'Liberation Serif', 'Times New Roman', serif" text-anchor="middle"  textLength="8.100000000000001" lengthAdjust="spacingAndGlyphs" stroke="#3c3c3c" stroke-width="0.25">852</text>
<text x="501.7" y="476.3" font-size="5.3" fill="#3c3c3c" font-weight="bold" font-family="'Liberation Serif', 'Times New Roman', serif" text-anchor="middle"  textLength="8.100000000000001" lengthAdjust="spacingAndGlyphs" stroke="#3c3c3c" stroke-width="0.25">850</text>
<text x="523.4" y="476.3" font-size="5.3" fill="#3c3c3c" font-weight="bold" font-family="'Liberation Serif', 'Times New Roman', serif" text-anchor="middle"  textLength="8.100000000000001" lengthAdjust="spacingAndGlyphs" stroke="#3c3c3c" stroke-width="0.25">848</text>
<text x="425.8" y="483.3" font-size="6.9" fill="#2a2a2a" font-weight="bold" font-family="'Liberation Serif', 'Times New Roman', serif" text-anchor="start"  textLength="66.5" lengthAdjust="spacingAndGlyphs" stroke="#2a2a2a" stroke-width="0.3">Binding Energy (eV)</text>
<text x="373.8" y="401.6" font-size="6.6" fill="#333" font-weight="bold" font-family="'Liberation Serif', 'Times New Roman', serif" text-anchor="middle" transform="rotate(-90 373.8 401.6)" dy="2.2" textLength="14" lengthAdjust="spacingAndGlyphs" stroke="#333" stroke-width="0.2">(a.s.)</text>
<text x="386.6" y="347.4" font-size="13.4" fill="#111" font-weight="bold" font-family="'Liberation Sans', Arial, sans-serif" text-anchor="start" >h)</text>
<path d="M382.00,410.17 L383.50,430.13 L385.00,409.17 L386.50,420.29 L388.00,409.41 L389.50,418.43 L391.00,415.64 L392.50,420.53 L394.00,406.92 L395.50,419.75 L397.00,413.53 L398.50,415.03 L400.00,409.99 L401.50,418.48 L403.00,405.37 L404.50,413.23 L406.00,405.69 L407.50,410.96 L409.00,415.60 L410.50,407.02 L412.00,408.73 L413.50,419.24 L415.00,410.01 L416.50,400.37 L418.00,399.89 L419.50,407.67 L421.00,402.65 L422.50,406.47 L424.00,402.08 L425.50,416.07 L427.00,406.76 L428.50,407.24 L430.00,395.44 L431.50,386.22 L433.00,396.94 L434.50,395.55 L436.00,386.52 L437.50,404.24 L439.00,391.92 L440.50,388.03 L442.00,390.28 L443.50,401.48 L445.00,387.46 L446.50,390.33 L448.00,379.26 L449.50,388.30 L451.00,382.36 L452.50,380.70 L454.00,377.52 L455.50,382.07 L457.00,380.11 L458.50,385.30 L460.00,387.06 L461.50,385.75 L463.00,387.30 L464.50,383.39 L466.00,359.43 L467.50,371.94 L469.00,363.63 L470.50,367.21 L472.00,365.87 L473.50,375.24 L475.00,372.73 L476.50,377.00 L478.00,370.82 L479.50,380.73 L481.00,378.07 L482.50,387.02 L484.00,371.81 L485.50,391.08 L487.00,374.87 L488.50,386.06 L490.00,378.53 L491.50,382.88 L493.00,383.04 L494.50,387.61 L496.00,387.25 L497.50,388.87 L499.00,385.50 L500.50,390.52 L502.00,368.75 L503.50,374.94 L505.00,396.27 L506.50,386.26 L508.00,380.66 L509.50,386.16 L511.00,379.62 L512.50,384.93 L514.00,371.60 L515.50,388.67 L517.00,377.52 L518.50,383.59 L520.00,377.70 L521.50,387.55 L523.00,368.13 L524.50,373.70 L526.00,381.71 L527.50,370.72 L529.00,373.50 L530.50,381.77 L532.00,373.43 L533.50,381.47 L535.00,369.44 L536.50,383.57" fill="none" stroke="#1818e4" stroke-width="1.7" stroke-linejoin="round" />
<path d="M382.00,453.55 L383.50,465.17 L385.00,453.98 L386.50,456.70 L388.00,453.89 L389.50,447.91 L391.00,451.15 L392.50,454.37 L394.00,453.67 L395.50,457.86 L397.00,450.19 L398.50,455.45 L400.00,451.15 L401.50,458.85 L403.00,446.50 L404.50,452.42 L406.00,446.50 L407.50,450.14 L409.00,448.12 L410.50,453.35 L412.00,447.20 L413.50,450.81 L415.00,439.11 L416.50,445.13 L418.00,439.99 L419.50,451.49 L421.00,433.03 L422.50,442.86 L424.00,440.72 L425.50,440.84 L427.00,438.25 L428.50,439.42 L430.00,434.98 L431.50,447.54 L433.00,435.80 L434.50,435.17 L436.00,423.55 L437.50,436.94 L439.00,425.60 L440.50,437.88 L442.00,434.02 L443.50,429.71 L445.00,423.20 L446.50,426.57 L448.00,417.98 L449.50,424.00 L451.00,416.60 L452.50,429.40 L454.00,413.11 L455.50,422.84 L457.00,417.68 L458.50,428.45 L460.00,418.18 L461.50,422.33 L463.00,414.51 L464.50,430.23 L466.00,419.76 L467.50,423.27 L469.00,417.48 L470.50,424.94 L472.00,429.51 L473.50,418.89 L475.00,414.07 L476.50,440.47 L478.00,420.72 L479.50,424.56 L481.00,427.83 L482.50,437.28 L484.00,435.02 L485.50,437.99 L487.00,427.91 L488.50,426.99 L490.00,420.73 L491.50,432.19 L493.00,437.74 L494.50,430.13 L496.00,418.56 L497.50,430.15 L499.00,423.95 L500.50,432.09 L502.00,417.71 L503.50,418.14 L505.00,417.50 L506.50,430.93 L508.00,431.33 L509.50,432.11 L511.00,425.02 L512.50,432.50 L514.00,416.32 L515.50,423.47 L517.00,415.07 L518.50,427.62 L520.00,425.35 L521.50,425.67 L523.00,413.46 L524.50,426.39 L526.00,417.33 L527.50,431.10 L529.00,417.41 L530.50,420.89 L532.00,417.18 L533.50,426.41 L535.00,411.21 L536.50,424.76" fill="none" stroke="#e01a1a" stroke-width="1.7" stroke-linejoin="round" />
<text x="393.2" y="401.2" font-size="14.6" fill="#1414d8" font-weight="bold" font-family="'Liberation Sans', Arial, sans-serif" text-anchor="start"  stroke="#1414d8" stroke-width="0.5">B</text>
<text x="393.4" y="443.6" font-size="14.2" fill="#e0161c" font-weight="bold" font-family="'Liberation Sans', Arial, sans-serif" text-anchor="start"  stroke="#e0161c" stroke-width="0.4">A</text>
<rect x="447.2" y="373.8" width="17.4" height="92.4" fill="#f7b733" fill-opacity="0.55" stroke="#c8a060" stroke-width="0.7"/>
<rect x="466.6" y="357.4" width="10.4" height="108.8" fill="#6a9fd8" fill-opacity="0.5" stroke="#8aaad0" stroke-width="0.7"/>
<path d="M424.60,368.60 L454.00,373.60" fill="none" stroke="#2a2a2a" stroke-width="1.1" stroke-linejoin="round" stroke-dasharray="2.4,1.6"/>
<path d="M474.00,357.40 L486.00,349.20" fill="none" stroke="#2a2a2a" stroke-width="1.1" stroke-linejoin="round" stroke-dasharray="2.4,1.6"/>
<text x="400.6" y="366.0" font-size="8.4" fill="#383838" font-weight="normal" font-family="'Liberation Sans', Arial, sans-serif" text-anchor="start"  textLength="55.4" lengthAdjust="spacingAndGlyphs" stroke="#383838" stroke-width="0.25">NiO - NiOOH</text>
<text x="486" y="348.4" font-size="8.6" fill="#383838" stroke="#383838" stroke-width="0.2" font-family="'Liberation Sans', Arial, sans-serif">Ni<tspan font-size="6" dy="-3.2">0</tspan></text>
<rect x="10.5" y="157.8" width="356.9" height="326.5" fill="#000"/>
<path d="M10.2,158 V484.5" stroke="#bbb" stroke-width="0.8"/>
<defs>
<clipPath id="clipb"><rect x="0" y="0" width="157.4" height="136.2"/></clipPath>
<clipPath id="clipc"><rect x="0" y="0" width="157.4" height="136.2"/></clipPath>
<clipPath id="clipd"><rect x="0" y="0" width="157.4" height="136.2"/></clipPath>
<clipPath id="clipe"><rect x="0" y="0" width="157.4" height="136.2"/></clipPath>
<filter id="bl0_6" x="-50%" y="-50%" width="200%" height="200%" color-interpolation-filters="sRGB"><feGaussianBlur stdDeviation="0.6"/></filter>
<filter id="bl1" x="-50%" y="-50%" width="200%" height="200%" color-interpolation-filters="sRGB"><feGaussianBlur stdDeviation="1"/></filter>
<filter id="bl2" x="-50%" y="-50%" width="200%" height="200%" color-interpolation-filters="sRGB"><feGaussianBlur stdDeviation="2"/></filter>
<filter id="bl4" x="-50%" y="-50%" width="200%" height="200%" color-interpolation-filters="sRGB"><feGaussianBlur stdDeviation="4"/></filter>
<filter id="gb" x="-10%" y="-10%" width="120%" height="120%" color-interpolation-filters="sRGB"><feGaussianBlur stdDeviation="3.4"/></filter>
<filter id="tex" x="0" y="0" width="100%" height="100%" color-interpolation-filters="sRGB">
  <feTurbulence type="fractalNoise" baseFrequency="0.14" numOctaves="3" seed="4" result="n"/>
  <feColorMatrix in="n" type="matrix" values="1.7 0 0 0 -0.35  1.7 0 0 0 -0.35  1.7 0 0 0 -0.35  0 0 0 0 1" result="gn"/>
  <feGaussianBlur in="gn" stdDeviation="0.5" result="gb2"/>
  <feComposite in="SourceGraphic" in2="gb2" operator="arithmetic" k1="1.0" k2="0.5" k3="0" k4="0"/>
</filter>
</defs>
<g transform="translate(25.2,170.3)">
<g clip-path="url(#clipb)"><g filter="url(#tex)">
<g filter="url(#gb)">
<rect x="-10" y="-10" width="10.5" height="10.5" fill="rgb(54,54,54)"/>
<rect x="0" y="-10" width="10.5" height="10.5" fill="rgb(54,54,54)"/>
<rect x="10" y="-10" width="10.5" height="10.5" fill="rgb(60,60,60)"/>
<rect x="20" y="-10" width="10.5" height="10.5" fill="rgb(54,54,54)"/>
<rect x="30" y="-10" width="10.5" height="10.5" fill="rgb(73,73,73)"/>
<rect x="40" y="-10" width="10.5" height="10.5" fill="rgb(86,86,86)"/>
<rect x="50" y="-10" width="10.5" height="10.5" fill="rgb(60,60,60)"/>
<rect x="60" y="-10" width="10.5" height="10.5" fill="rgb(73,73,73)"/>
<rect x="70" y="-10" width="10.5" height="10.5" fill="rgb(86,86,86)"/>
<rect x="80" y="-10" width="10.5" height="10.5" fill="rgb(86,86,86)"/>
<rect x="90" y="-10" width="10.5" height="10.5" fill="rgb(99,99,99)"/>
<rect x="100" y="-10" width="10.5" height="10.5" fill="rgb(73,73,73)"/>
<rect x="110" y="-10" width="10.5" height="10.5" fill="rgb(60,60,60)"/>
<rect x="120" y="-10" width="10.5" height="10.5" fill="rgb(42,42,42)"/>
<rect x="130" y="-10" width="10.5" height="10.5" fill="rgb(20,20,20)"/>
<rect x="140" y="-10" width="10.5" height="10.5" fill="rgb(16,16,16)"/>
<rect x="150" y="-10" width="10.5" height="10.5" fill="rgb(12,12,12)"/>
<rect x="160" y="-10" width="10.5" height="10.5" fill="rgb(12,12,12)"/>
<rect x="-10" y="0" width="10.5" height="10.5" fill="rgb(54,54,54)"/>
<rect x="0" y="0" width="10.5" height="10.5" fill="rgb(54,54,54)"/>
<rect x="10" y="0" width="10.5" height="10.5" fill="rgb(60,60,60)"/>
<rect x="20" y="0" width="10.5" height="10.5" fill="rgb(54,54,54)"/>
<rect x="30" y="0" width="10.5" height="10.5" fill="rgb(73,73,73)"/>
<rect x="40" y="0" width="10.5" height="10.5" fill="rgb(86,86,86)"/>
<rect x="50" y="0" width="10.5" height="10.5" fill="rgb(60,60,60)"/>
<rect x="60" y="0" width="10.5" height="10.5" fill="rgb(73,73,73)"/>
<rect x="70" y="0" width="10.5" height="10.5" fill="rgb(86,86,86)"/>
<rect x="80" y="0" width="10.5" height="10.5" fill="rgb(86,86,86)"/>
<rect x="90" y="0" width="10.5" height="10.5" fill="rgb(99,99,99)"/>
<rect x="100" y="0" width="10.5" height="10.5" fill="rgb(73,73,73)"/>
<rect x="110" y="0" width="10.5" height="10.5" fill="rgb(60,60,60)"/>
<rect x="120" y="0" width="10.5" height="10.5" fill="rgb(42,42,42)"/>
<rect x="130" y="0" width="10.5" height="10.5" fill="rgb(20,20,20)"/>
<rect x="140" y="0" width="10.5" height="10.5" fill="rgb(16,16,16)"/>
<rect x="150" y="0" width="10.5" height="10.5" fill="rgb(12,12,12)"/>
<rect x="160" y="0" width="10.5" height="10.5" fill="rgb(12,12,12)"/>
<rect x="-10" y="10" width="10.5" height="10.5" fill="rgb(54,54,54)"/>
<rect x="0" y="10" width="10.5" height="10.5" fill="rgb(54,54,54)"/>
<rect x="10" y="10" width="10.5" height="10.5" fill="rgb(86,86,86)"/>
<rect x="20" y="10" width="10.5" height="10.5" fill="rgb(60,60,60)"/>
<rect x="30" y="10" width="10.5" height="10.5" fill="rgb(54,54,54)"/>
<rect x="40" y="10" width="10.5" height="10.5" fill="rgb(99,99,99)"/>
<rect x="50" y="10" width="10.5" height="10.5" fill="rgb(44,44,44)"/>
<rect x="60" y="10" width="10.5" height="10.5" fill="rgb(28,28,28)"/>
<rect x="70" y="10" width="10.5" height="10.5" fill="rgb(24,24,24)"/>
<rect x="80" y="10" width="10.5" height="10.5" fill="rgb(54,54,54)"/>
<rect x="90" y="10" width="10.5" height="10.5" fill="rgb(99,99,99)"/>
<rect x="100" y="10" width="10.5" height="10.5" fill="rgb(60,60,60)"/>
<rect x="110" y="10" width="10.5" height="10.5" fill="rgb(86,86,86)"/>
<rect x="120" y="10" width="10.5" height="10.5" fill="rgb(48,48,48)"/>
<rect x="130" y="10" width="10.5" height="10.5" fill="rgb(16,16,16)"/>
<rect x="140" y="10" width="10.5" height="10.5" fill="rgb(12,12,12)"/>
<rect x="150" y="10" width="10.5" height="10.5" fill="rgb(12,12,12)"/>
<rect x="160" y="10" width="10.5" height="10.5" fill="rgb(12,12,12)"/>
<rect x="-10" y="20" width="10.5" height="10.5" fill="rgb(60,60,60)"/>
<rect x="0" y="20" width="10.5" height="10.5" fill="rgb(60,60,60)"/>
<rect x="10" y="20" width="10.5" height="10.5" fill="rgb(54,54,54)"/>
<rect x="20" y="20" width="10.5" height="10.5" fill="rgb(60,60,60)"/>
<rect x="30" y="20" width="10.5" height="10.5" fill="rgb(32,32,32)"/>
<rect x="40" y="20" width="10.5" height="10.5" fill="rgb(20,20,20)"/>
<rect x="50" y="20" width="10.5" height="10.5" fill="rgb(17,17,17)"/>
<rect x="60" y="20" width="10.5" height="10.5" fill="rgb(20,20,20)"/>
<rect x="70" y="20" width="10.5" height="10.5" fill="rgb(28,28,28)"/>
<rect x="80" y="20" width="10.5" height="10.5" fill="rgb(60,60,60)"/>
<rect x="90" y="20" width="10.5" height="10.5" fill="rgb(86,86,86)"/>
<rect x="100" y="20" width="10.5" height="10.5" fill="rgb(54,54,54)"/>
<rect x="110" y="20" width="10.5" height="10.5" fill="rgb(54,54,54)"/>
<rect x="120" y="20" width="10.5" height="10.5" fill="rgb(73,73,73)"/>
<rect x="130" y="20" width="10.5" height="10.5" fill="rgb(20,20,20)"/>
<rect x="140" y="20" width="10.5" height="10.5" fill="rgb(12,12,12)"/>
<rect x="150" y="20" width="10.5" height="10.5" fill="rgb(12,12,12)"/>
<rect x="160" y="20" width="10.5" height="10.5" fill="rgb(12,12,12)"/>
<rect x="-10" y="30" width="10.5" height="10.5" fill="rgb(99,99,99)"/>
<rect x="0" y="30" width="10.5" height="10.5" fill="rgb(99,99,99)"/>
<rect x="10" y="30" width="10.5" height="10.5" fill="rgb(112,112,112)"/>
<rect x="20" y="30" width="10.5" height="10.5" fill="rgb(28,28,28)"/>
<rect x="30" y="30" width="10.5" height="10.5" fill="rgb(17,17,17)"/>
<rect x="40" y="30" width="10.5" height="10.5" fill="rgb(24,24,24)"/>
<rect x="50" y="30" width="10.5" height="10.5" fill="rgb(28,28,28)"/>
<rect x="60" y="30" width="10.5" height="10.5" fill="rgb(24,24,24)"/>
<rect x="70" y="30" width="10.5" height="10.5" fill="rgb(32,32,32)"/>
<rect x="80" y="30" width="10.5" height="10.5" fill="rgb(60,60,60)"/>
<rect x="90" y="30" width="10.5" height="10.5" fill="rgb(54,54,54)"/>
<rect x="100" y="30" width="10.5" height="10.5" fill="rgb(42,42,42)"/>
<rect x="110" y="30" width="10.5" height="10.5" fill="rgb(48,48,48)"/>
<rect x="120" y="30" width="10.5" height="10.5" fill="rgb(60,60,60)"/>
<rect x="130" y="30" width="10.5" height="10.5" fill="rgb(12,12,12)"/>
<rect x="140" y="30" width="10.5" height="10.5" fill="rgb(12,12,12)"/>
<rect x="150" y="30" width="10.5" height="10.5" fill="rgb(12,12,12)"/>
<rect x="160" y="30" width="10.5" height="10.5" fill="rgb(12,12,12)"/>
<rect x="-10" y="40" width="10.5" height="10.5" fill="rgb(54,54,54)"/>
<rect x="0" y="40" width="10.5" height="10.5" fill="rgb(54,54,54)"/>
<rect x="10" y="40" width="10.5" height="10.5" fill="rgb(44,44,44)"/>
<rect x="20" y="40" width="10.5" height="10.5" fill="rgb(24,24,24)"/>
<rect x="30" y="40" width="10.5" height="10.5" fill="rgb(28,28,28)"/>
<rect x="40" y="40" width="10.5" height="10.5" fill="rgb(24,24,24)"/>
<rect x="50" y="40" width="10.5" height="10.5" fill="rgb(32,32,32)"/>
<rect x="60" y="40" width="10.5" height="10.5" fill="rgb(28,28,28)"/>
<rect x="70" y="40" width="10.5" height="10.5" fill="rgb(40,40,40)"/>
<rect x="80" y="40" width="10.5" height="10.5" fill="rgb(99,99,99)"/>
<rect x="90" y="40" width="10.5" height="10.5" fill="rgb(60,60,60)"/>
<rect x="100" y="40" width="10.5" height="10.5" fill="rgb(25,25,25)"/>
<rect x="110" y="40" width="10.5" height="10.5" fill="rgb(20,20,20)"/>
<rect x="120" y="40" width="10.5" height="10.5" fill="rgb(48,48,48)"/>
<rect x="130" y="40" width="10.5" height="10.5" fill="rgb(12,12,12)"/>
<rect x="140" y="40" width="10.5" height="10.5" fill="rgb(12,12,12)"/>
<rect x="150" y="40" width="10.5" height="10.5" fill="rgb(12,12,12)"/>
<rect x="160" y="40" width="10.5" height="10.5" fill="rgb(12,12,12)"/>
<rect x="-10" y="50" width="10.5" height="10.5" fill="rgb(54,54,54)"/>
<rect x="0" y="50" width="10.5" height="10.5" fill="rgb(54,54,54)"/>
<rect x="10" y="50" width="10.5" height="10.5" fill="rgb(60,60,60)"/>
<rect x="20" y="50" width="10.5" height="10.5" fill="rgb(40,40,40)"/>
<rect x="30" y="50" width="10.5" height="10.5" fill="rgb(20,20,20)"/>
<rect x="40" y="50" width="10.5" height="10.5" fill="rgb(14,14,14)"/>
<rect x="50" y="50" width="10.5" height="10.5" fill="rgb(24,24,24)"/>
<rect x="60" y="50" width="10.5" height="10.5" fill="rgb(36,36,36)"/>
<rect x="70" y="50" width="10.5" height="10.5" fill="rgb(32,32,32)"/>
<rect x="80" y="50" width="10.5" height="10.5" fill="rgb(151,151,151)"/>
<rect x="90" y="50" width="10.5" height="10.5" fill="rgb(73,73,73)"/>
<rect x="100" y="50" width="10.5" height="10.5" fill="rgb(16,16,16)"/>
<rect x="110" y="50" width="10.5" height="10.5" fill="rgb(16,16,16)"/>
<rect x="120" y="50" width="10.5" height="10.5" fill="rgb(16,16,16)"/>
<rect x="130" y="50" width="10.5" height="10.5" fill="rgb(12,12,12)"/>
<rect x="140" y="50" width="10.5" height="10.5" fill="rgb(12,12,12)"/>
<rect x="150" y="50" width="10.5" height="10.5" fill="rgb(12,12,12)"/>
<rect x="160" y="50" width="10.5" height="10.5" fill="rgb(12,12,12)"/>
<rect x="-10" y="60" width="10.5" height="10.5" fill="rgb(48,48,48)"/>
<rect x="0" y="60" width="10.5" height="10.5" fill="rgb(48,48,48)"/>
<rect x="10" y="60" width="10.5" height="10.5" fill="rgb(54,54,54)"/>
<rect x="20" y="60" width="10.5" height="10.5" fill="rgb(86,86,86)"/>
<rect x="30" y="60" width="10.5" height="10.5" fill="rgb(24,24,24)"/>
<rect x="40" y="60" width="10.5" height="10.5" fill="rgb(17,17,17)"/>
<rect x="50" y="60" width="10.5" height="10.5" fill="rgb(20,20,20)"/>
<rect x="60" y="60" width="10.5" height="10.5" fill="rgb(24,24,24)"/>
<rect x="70" y="60" width="10.5" height="10.5" fill="rgb(44,44,44)"/>
<rect x="80" y="60" width="10.5" height="10.5" fill="rgb(138,138,138)"/>
<rect x="90" y="60" width="10.5" height="10.5" fill="rgb(54,54,54)"/>
<rect x="100" y="60" width="10.5" height="10.5" fill="rgb(16,16,16)"/>
<rect x="110" y="60" width="10.5" height="10.5" fill="rgb(12,12,12)"/>
<rect x="120" y="60" width="10.5" height="10.5" fill="rgb(12,12,12)"/>
<rect x="130" y="60" width="10.5" height="10.5" fill="rgb(12,12,12)"/>
<rect x="140" y="60" width="10.5" height="10.5" fill="rgb(12,12,12)"/>
<rect x="150" y="60" width="10.5" height="10.5" fill="rgb(12,12,12)"/>
<rect x="160" y="60" width="10.5" height="10.5" fill="rgb(12,12,12)"/>
<rect x="-10" y="70" width="10.5" height="10.5" fill="rgb(54,54,54)"/>
<rect x="0" y="70" width="10.5" height="10.5" fill="rgb(54,54,54)"/>
<rect x="10" y="70" width="10.5" height="10.5" fill="rgb(60,60,60)"/>
<rect x="20" y="70" width="10.5" height="10.5" fill="rgb(73,73,73)"/>
<rect x="30" y="70" width="10.5" height="10.5" fill="rgb(40,40,40)"/>
<rect x="40" y="70" width="10.5" height="10.5" fill="rgb(14,14,14)"/>
<rect x="50" y="70" width="10.5" height="10.5" fill="rgb(17,17,17)"/>
<rect x="60" y="70" width="10.5" height="10.5" fill="rgb(24,24,24)"/>
<rect x="70" y="70" width="10.5" height="10.5" fill="rgb(40,40,40)"/>
<rect x="80" y="70" width="10.5" height="10.5" fill="rgb(190,190,190)"/>
<rect x="90" y="70" width="10.5" height="10.5" fill="rgb(48,48,48)"/>
<rect x="100" y="70" width="10.5" height="10.5" fill="rgb(16,16,16)"/>
<rect x="110" y="70" width="10.5" height="10.5" fill="rgb(14,14,14)"/>
<rect x="120" y="70" width="10.5" height="10.5" fill="rgb(14,14,14)"/>
<rect x="130" y="70" width="10.5" height="10.5" fill="rgb(14,14,14)"/>
<rect x="140" y="70" width="10.5" height="10.5" fill="rgb(14,14,14)"/>
<rect x="150" y="70" width="10.5" height="10.5" fill="rgb(14,14,14)"/>
<rect x="160" y="70" width="10.5" height="10.5" fill="rgb(14,14,14)"/>
<rect x="-10" y="80" width="10.5" height="10.5" fill="rgb(60,60,60)"/>
<rect x="0" y="80" width="10.5" height="10.5" fill="rgb(60,60,60)"/>
<rect x="10" y="80" width="10.5" height="10.5" fill="rgb(73,73,73)"/>
<rect x="20" y="80" width="10.5" height="10.5" fill="rgb(54,54,54)"/>
<rect x="30" y="80" width="10.5" height="10.5" fill="rgb(48,48,48)"/>
<rect x="40" y="80" width="10.5" height="10.5" fill="rgb(24,24,24)"/>
<rect x="50" y="80" width="10.5" height="10.5" fill="rgb(36,36,36)"/>
<rect x="60" y="80" width="10.5" height="10.5" fill="rgb(36,36,36)"/>
<rect x="70" y="80" width="10.5" height="10.5" fill="rgb(36,36,36)"/>
<rect x="80" y="80" width="10.5" height="10.5" fill="rgb(60,60,60)"/>
<rect x="90" y="80" width="10.5" height="10.5" fill="rgb(31,31,31)"/>
<rect x="100" y="80" width="10.5" height="10.5" fill="rgb(14,14,14)"/>
<rect x="110" y="80" width="10.5" height="10.5" fill="rgb(14,14,14)"/>
<rect x="120" y="80" width="10.5" height="10.5" fill="rgb(14,14,14)"/>
<rect x="130" y="80" width="10.5" height="10.5" fill="rgb(25,25,25)"/>
<rect x="140" y="80" width="10.5" height="10.5" fill="rgb(31,31,31)"/>
<rect x="150" y="80" width="10.5" height="10.5" fill="rgb(20,20,20)"/>
<rect x="160" y="80" width="10.5" height="10.5" fill="rgb(20,20,20)"/>
<rect x="-10" y="90" width="10.5" height="10.5" fill="rgb(54,54,54)"/>
<rect x="0" y="90" width="10.5" height="10.5" fill="rgb(54,54,54)"/>
<rect x="10" y="90" width="10.5" height="10.5" fill="rgb(54,54,54)"/>
<rect x="20" y="90" width="10.5" height="10.5" fill="rgb(54,54,54)"/>
<rect x="30" y="90" width="10.5" height="10.5" fill="rgb(54,54,54)"/>
<rect x="40" y="90" width="10.5" height="10.5" fill="rgb(40,40,40)"/>
<rect x="50" y="90" width="10.5" height="10.5" fill="rgb(24,24,24)"/>
<rect x="60" y="90" width="10.5" height="10.5" fill="rgb(32,32,32)"/>
<rect x="70" y="90" width="10.5" height="10.5" fill="rgb(20,20,20)"/>
<rect x="80" y="90" width="10.5" height="10.5" fill="rgb(54,54,54)"/>
<rect x="90" y="90" width="10.5" height="10.5" fill="rgb(25,25,25)"/>
<rect x="100" y="90" width="10.5" height="10.5" fill="rgb(14,14,14)"/>
<rect x="110" y="90" width="10.5" height="10.5" fill="rgb(14,14,14)"/>
<rect x="120" y="90" width="10.5" height="10.5" fill="rgb(20,20,20)"/>
<rect x="130" y="90" width="10.5" height="10.5" fill="rgb(16,16,16)"/>
<rect x="140" y="90" width="10.5" height="10.5" fill="rgb(16,16,16)"/>
<rect x="150" y="90" width="10.5" height="10.5" fill="rgb(16,16,16)"/>
<rect x="160" y="90" width="10.5" height="10.5" fill="rgb(16,16,16)"/>
<rect x="-10" y="100" width="10.5" height="10.5" fill="rgb(54,54,54)"/>
<rect x="0" y="100" width="10.5" height="10.5" fill="rgb(54,54,54)"/>
<rect x="10" y="100" width="10.5" height="10.5" fill="rgb(60,60,60)"/>
<rect x="20" y="100" width="10.5" height="10.5" fill="rgb(48,48,48)"/>
<rect x="30" y="100" width="10.5" height="10.5" fill="rgb(54,54,54)"/>
<rect x="40" y="100" width="10.5" height="10.5" fill="rgb(48,48,48)"/>
<rect x="50" y="100" width="10.5" height="10.5" fill="rgb(14,14,14)"/>
<rect x="60" y="100" width="10.5" height="10.5" fill="rgb(17,17,17)"/>
<rect x="70" y="100" width="10.5" height="10.5" fill="rgb(14,14,14)"/>
<rect x="80" y="100" width="10.5" height="10.5" fill="rgb(31,31,31)"/>
<rect x="90" y="100" width="10.5" height="10.5" fill="rgb(20,20,20)"/>
<rect x="100" y="100" width="10.5" height="10.5" fill="rgb(14,14,14)"/>
<rect x="110" y="100" width="10.5" height="10.5" fill="rgb(14,14,14)"/>
<rect x="120" y="100" width="10.5" height="10.5" fill="rgb(14,14,14)"/>
<rect x="130" y="100" width="10.5" height="10.5" fill="rgb(14,14,14)"/>
<rect x="140" y="100" width="10.5" height="10.5" fill="rgb(14,14,14)"/>
<rect x="150" y="100" width="10.5" height="10.5" fill="rgb(14,14,14)"/>
<rect x="160" y="100" width="10.5" height="10.5" fill="rgb(14,14,14)"/>
<rect x="-10" y="110" width="10.5" height="10.5" fill="rgb(48,48,48)"/>
<rect x="0" y="110" width="10.5" height="10.5" fill="rgb(48,48,48)"/>
<rect x="10" y="110" width="10.5" height="10.5" fill="rgb(42,42,42)"/>
<rect x="20" y="110" width="10.5" height="10.5" fill="rgb(42,42,42)"/>
<rect x="30" y="110" width="10.5" height="10.5" fill="rgb(48,48,48)"/>
<rect x="40" y="110" width="10.5" height="10.5" fill="rgb(54,54,54)"/>
<rect x="50" y="110" width="10.5" height="10.5" fill="rgb(24,24,24)"/>
<rect x="60" y="110" width="10.5" height="10.5" fill="rgb(10,10,10)"/>
<rect x="70" y="110" width="10.5" height="10.5" fill="rgb(8,8,8)"/>
<rect x="80" y="110" width="10.5" height="10.5" fill="rgb(16,16,16)"/>
<rect x="90" y="110" width="10.5" height="10.5" fill="rgb(14,14,14)"/>
<rect x="100" y="110" width="10.5" height="10.5" fill="rgb(14,14,14)"/>
<rect x="110" y="110" width="10.5" height="10.5" fill="rgb(14,14,14)"/>
<rect x="120" y="110" width="10.5" height="10.5" fill="rgb(14,14,14)"/>
<rect x="130" y="110" width="10.5" height="10.5" fill="rgb(14,14,14)"/>
<rect x="140" y="110" width="10.5" height="10.5" fill="rgb(14,14,14)"/>
<rect x="150" y="110" width="10.5" height="10.5" fill="rgb(16,16,16)"/>
<rect x="160" y="110" width="10.5" height="10.5" fill="rgb(16,16,16)"/>
<rect x="-10" y="120" width="10.5" height="10.5" fill="rgb(42,42,42)"/>
<rect x="0" y="120" width="10.5" height="10.5" fill="rgb(42,42,42)"/>
<rect x="10" y="120" width="10.5" height="10.5" fill="rgb(60,60,60)"/>
<rect x="20" y="120" width="10.5" height="10.5" fill="rgb(60,60,60)"/>
<rect x="30" y="120" width="10.5" height="10.5" fill="rgb(54,54,54)"/>
<rect x="40" y="120" width="10.5" height="10.5" fill="rgb(54,54,54)"/>
<rect x="50" y="120" width="10.5" height="10.5" fill="rgb(48,48,48)"/>
<rect x="60" y="120" width="10.5" height="10.5" fill="rgb(10,10,10)"/>
<rect x="70" y="120" width="10.5" height="10.5" fill="rgb(8,8,8)"/>
<rect x="80" y="120" width="10.5" height="10.5" fill="rgb(14,14,14)"/>
<rect x="90" y="120" width="10.5" height="10.5" fill="rgb(14,14,14)"/>
<rect x="100" y="120" width="10.5" height="10.5" fill="rgb(14,14,14)"/>
<rect x="110" y="120" width="10.5" height="10.5" fill="rgb(14,14,14)"/>
<rect x="120" y="120" width="10.5" height="10.5" fill="rgb(16,16,16)"/>
<rect x="130" y="120" width="10.5" height="10.5" fill="rgb(20,20,20)"/>
<rect x="140" y="120" width="10.5" height="10.5" fill="rgb(31,31,31)"/>
<rect x="150" y="120" width="10.5" height="10.5" fill="rgb(42,42,42)"/>
<rect x="160" y="120" width="10.5" height="10.5" fill="rgb(42,42,42)"/>
<rect x="-10" y="130" width="10.5" height="10.5" fill="rgb(37,37,37)"/>
<rect x="0" y="130" width="10.5" height="10.5" fill="rgb(37,37,37)"/>
<rect x="10" y="130" width="10.5" height="10.5" fill="rgb(60,60,60)"/>
<rect x="20" y="130" width="10.5" height="10.5" fill="rgb(54,54,54)"/>
<rect x="30" y="130" width="10.5" height="10.5" fill="rgb(48,48,48)"/>
<rect x="40" y="130" width="10.5" height="10.5" fill="rgb(42,42,42)"/>
<rect x="50" y="130" width="10.5" height="10.5" fill="rgb(42,42,42)"/>
<rect x="60" y="130" width="10.5" height="10.5" fill="rgb(20,20,20)"/>
<rect x="70" y="130" width="10.5" height="10.5" fill="rgb(8,8,8)"/>
<rect x="80" y="130" width="10.5" height="10.5" fill="rgb(14,14,14)"/>
<rect x="90" y="130" width="10.5" height="10.5" fill="rgb(14,14,14)"/>
<rect x="100" y="130" width="10.5" height="10.5" fill="rgb(14,14,14)"/>
<rect x="110" y="130" width="10.5" height="10.5" fill="rgb(16,16,16)"/>
<rect x="120" y="130" width="10.5" height="10.5" fill="rgb(25,25,25)"/>
<rect x="130" y="130" width="10.5" height="10.5" fill="rgb(37,37,37)"/>
<rect x="140" y="130" width="10.5" height="10.5" fill="rgb(54,54,54)"/>
<rect x="150" y="130" width="10.5" height="10.5" fill="rgb(54,54,54)"/>
<rect x="160" y="130" width="10.5" height="10.5" fill="rgb(54,54,54)"/>
<rect x="-10" y="140" width="10.5" height="10.5" fill="rgb(37,37,37)"/>
<rect x="0" y="140" width="10.5" height="10.5" fill="rgb(37,37,37)"/>
<rect x="10" y="140" width="10.5" height="10.5" fill="rgb(60,60,60)"/>
<rect x="20" y="140" width="10.5" height="10.5" fill="rgb(54,54,54)"/>
<rect x="30" y="140" width="10.5" height="10.5" fill="rgb(48,48,48)"/>
<rect x="40" y="140" width="10.5" height="10.5" fill="rgb(42,42,42)"/>
<rect x="50" y="140" width="10.5" height="10.5" fill="rgb(42,42,42)"/>
<rect x="60" y="140" width="10.5" height="10.5" fill="rgb(20,20,20)"/>
<rect x="70" y="140" width="10.5" height="10.5" fill="rgb(8,8,8)"/>
<rect x="80" y="140" width="10.5" height="10.5" fill="rgb(14,14,14)"/>
<rect x="90" y="140" width="10.5" height="10.5" fill="rgb(14,14,14)"/>
<rect x="100" y="140" width="10.5" height="10.5" fill="rgb(14,14,14)"/>
<rect x="110" y="140" width="10.5" height="10.5" fill="rgb(16,16,16)"/>
<rect x="120" y="140" width="10.5" height="10.5" fill="rgb(25,25,25)"/>
<rect x="130" y="140" width="10.5" height="10.5" fill="rgb(37,37,37)"/>
<rect x="140" y="140" width="10.5" height="10.5" fill="rgb(54,54,54)"/>
<rect x="150" y="140" width="10.5" height="10.5" fill="rgb(54,54,54)"/>
<rect x="160" y="140" width="10.5" height="10.5" fill="rgb(54,54,54)"/>
</g>
<ellipse cx="36" cy="39" rx="5" ry="1.6" transform="rotate(-30 36 39)" fill="rgb(75,75,75)" filter="url(#bl1)"/>
<ellipse cx="54" cy="42" rx="6" ry="1.8" transform="rotate(-20 54 42)" fill="rgb(70,70,70)" filter="url(#bl1)"/>
<ellipse cx="45" cy="51" rx="4" ry="1.5" transform="rotate(40 45 51)" fill="rgb(65,65,65)" filter="url(#bl1)"/>
<ellipse cx="63" cy="27" rx="5" ry="2" transform="rotate(-35 63 27)" fill="rgb(75,75,75)" filter="url(#bl1)"/>
<ellipse cx="83" cy="20" rx="4" ry="2" transform="rotate(60 83 20)" fill="rgb(85,85,85)" filter="url(#bl1)"/>
<ellipse cx="91" cy="29" rx="4" ry="2" transform="rotate(-60 91 29)" fill="rgb(80,80,80)" filter="url(#bl1)"/>
<ellipse cx="70" cy="62" rx="5" ry="1.6" transform="rotate(-10 70 62)" fill="rgb(70,70,70)" filter="url(#bl1)"/>
<ellipse cx="40" cy="70" rx="5" ry="1.5" transform="rotate(-25 40 70)" fill="rgb(60,60,60)" filter="url(#bl1)"/>
</g>
<path d="M86,0 L9,35.5 L65,136.5" fill="none" stroke="rgb(125,125,125)" stroke-width="3" stroke-opacity="0.6" filter="url(#bl1)"/>
</g>
<text x="6.1" y="19.0" font-size="12.6" font-weight="bold" fill="#f4f4f4" font-family="'Liberation Sans', Arial, sans-serif" textLength="12.2" lengthAdjust="spacingAndGlyphs">b)</text>
<text x="123.7" y="19.0" font-size="12.2" font-weight="bold" fill="#f4f4f4" font-family="'Liberation Sans', Arial, sans-serif" textLength="25.8" lengthAdjust="spacingAndGlyphs">C 1s</text>
<text x="11.6" y="127.3" font-size="10.2" font-weight="bold" fill="#f2f2f2" font-family="'Liberation Sans', Arial, sans-serif" textLength="31.8" lengthAdjust="spacingAndGlyphs">10 µm</text>
<rect x="11.2" y="130.5" width="31.4" height="1.5" fill="#f2f2f2"/>
<rect x="0" y="0" width="157.4" height="136.2" fill="none" stroke="#c8c8c8" stroke-width="1.1"/>
</g>
<g transform="translate(202.4,170.1)">
<g clip-path="url(#clipc)"><g filter="url(#tex)">
<g filter="url(#gb)">
<rect x="-10" y="-10" width="10.5" height="10.5" fill="rgb(42,42,42)"/>
<rect x="0" y="-10" width="10.5" height="10.5" fill="rgb(42,42,42)"/>
<rect x="10" y="-10" width="10.5" height="10.5" fill="rgb(48,48,48)"/>
<rect x="20" y="-10" width="10.5" height="10.5" fill="rgb(42,42,42)"/>
<rect x="30" y="-10" width="10.5" height="10.5" fill="rgb(37,37,37)"/>
<rect x="40" y="-10" width="10.5" height="10.5" fill="rgb(42,42,42)"/>
<rect x="50" y="-10" width="10.5" height="10.5" fill="rgb(42,42,42)"/>
<rect x="60" y="-10" width="10.5" height="10.5" fill="rgb(42,42,42)"/>
<rect x="70" y="-10" width="10.5" height="10.5" fill="rgb(37,37,37)"/>
<rect x="80" y="-10" width="10.5" height="10.5" fill="rgb(37,37,37)"/>
<rect x="90" y="-10" width="10.5" height="10.5" fill="rgb(36,36,36)"/>
<rect x="100" y="-10" width="10.5" height="10.5" fill="rgb(36,36,36)"/>
<rect x="110" y="-10" width="10.5" height="10.5" fill="rgb(31,31,31)"/>
<rect x="120" y="-10" width="10.5" height="10.5" fill="rgb(21,21,21)"/>
<rect x="130" y="-10" width="10.5" height="10.5" fill="rgb(14,14,14)"/>
<rect x="140" y="-10" width="10.5" height="10.5" fill="rgb(12,12,12)"/>
<rect x="150" y="-10" width="10.5" height="10.5" fill="rgb(12,12,12)"/>
<rect x="160" y="-10" width="10.5" height="10.5" fill="rgb(12,12,12)"/>
<rect x="-10" y="0" width="10.5" height="10.5" fill="rgb(42,42,42)"/>
<rect x="0" y="0" width="10.5" height="10.5" fill="rgb(42,42,42)"/>
<rect x="10" y="0" width="10.5" height="10.5" fill="rgb(48,48,48)"/>
<rect x="20" y="0" width="10.5" height="10.5" fill="rgb(42,42,42)"/>
<rect x="30" y="0" width="10.5" height="10.5" fill="rgb(37,37,37)"/>
<rect x="40" y="0" width="10.5" height="10.5" fill="rgb(42,42,42)"/>
<rect x="50" y="0" width="10.5" height="10.5" fill="rgb(42,42,42)"/>
<rect x="60" y="0" width="10.5" height="10.5" fill="rgb(42,42,42)"/>
<rect x="70" y="0" width="10.5" height="10.5" fill="rgb(37,37,37)"/>
<rect x="80" y="0" width="10.5" height="10.5" fill="rgb(37,37,37)"/>
<rect x="90" y="0" width="10.5" height="10.5" fill="rgb(36,36,36)"/>
<rect x="100" y="0" width="10.5" height="10.5" fill="rgb(36,36,36)"/>
<rect x="110" y="0" width="10.5" height="10.5" fill="rgb(31,31,31)"/>
<rect x="120" y="0" width="10.5" height="10.5" fill="rgb(21,21,21)"/>
<rect x="130" y="0" width="10.5" height="10.5" fill="rgb(14,14,14)"/>
<rect x="140" y="0" width="10.5" height="10.5" fill="rgb(12,12,12)"/>
<rect x="150" y="0" width="10.5" height="10.5" fill="rgb(12,12,12)"/>
<rect x="160" y="0" width="10.5" height="10.5" fill="rgb(12,12,12)"/>
<rect x="-10" y="10" width="10.5" height="10.5" fill="rgb(37,37,37)"/>
<rect x="0" y="10" width="10.5" height="10.5" fill="rgb(37,37,37)"/>
<rect x="10" y="10" width="10.5" height="10.5" fill="rgb(54,54,54)"/>
<rect x="20" y="10" width="10.5" height="10.5" fill="rgb(42,42,42)"/>
<rect x="30" y="10" width="10.5" height="10.5" fill="rgb(42,42,42)"/>
<rect x="40" y="10" width="10.5" height="10.5" fill="rgb(42,42,42)"/>
<rect x="50" y="10" width="10.5" height="10.5" fill="rgb(42,42,42)"/>
<rect x="60" y="10" width="10.5" height="10.5" fill="rgb(36,36,36)"/>
<rect x="70" y="10" width="10.5" height="10.5" fill="rgb(36,36,36)"/>
<rect x="80" y="10" width="10.5" height="10.5" fill="rgb(36,36,36)"/>
<rect x="90" y="10" width="10.5" height="10.5" fill="rgb(46,46,46)"/>
<rect x="100" y="10" width="10.5" height="10.5" fill="rgb(36,36,36)"/>
<rect x="110" y="10" width="10.5" height="10.5" fill="rgb(31,31,31)"/>
<rect x="120" y="10" width="10.5" height="10.5" fill="rgb(17,17,17)"/>
<rect x="130" y="10" width="10.5" height="10.5" fill="rgb(12,12,12)"/>
<rect x="140" y="10" width="10.5" height="10.5" fill="rgb(12,12,12)"/>
<rect x="150" y="10" width="10.5" height="10.5" fill="rgb(12,12,12)"/>
<rect x="160" y="10" width="10.5" height="10.5" fill="rgb(12,12,12)"/>
<rect x="-10" y="20" width="10.5" height="10.5" fill="rgb(37,37,37)"/>
<rect x="0" y="20" width="10.5" height="10.5" fill="rgb(37,37,37)"/>
<rect x="10" y="20" width="10.5" height="10.5" fill="rgb(37,37,37)"/>
<rect x="20" y="20" width="10.5" height="10.5" fill="rgb(42,42,42)"/>
<rect x="30" y="20" width="10.5" height="10.5" fill="rgb(42,42,42)"/>
<rect x="40" y="20" width="10.5" height="10.5" fill="rgb(41,41,41)"/>
<rect x="50" y="20" width="10.5" height="10.5" fill="rgb(36,36,36)"/>
<rect x="60" y="20" width="10.5" height="10.5" fill="rgb(46,46,46)"/>
<rect x="70" y="20" width="10.5" height="10.5" fill="rgb(21,21,21)"/>
<rect x="80" y="20" width="10.5" height="10.5" fill="rgb(31,31,31)"/>
<rect x="90" y="20" width="10.5" height="10.5" fill="rgb(56,56,56)"/>
<rect x="100" y="20" width="10.5" height="10.5" fill="rgb(36,36,36)"/>
<rect x="110" y="20" width="10.5" height="10.5" fill="rgb(31,31,31)"/>
<rect x="120" y="20" width="10.5" height="10.5" fill="rgb(26,26,26)"/>
<rect x="130" y="20" width="10.5" height="10.5" fill="rgb(14,14,14)"/>
<rect x="140" y="20" width="10.5" height="10.5" fill="rgb(12,12,12)"/>
<rect x="150" y="20" width="10.5" height="10.5" fill="rgb(12,12,12)"/>
<rect x="160" y="20" width="10.5" height="10.5" fill="rgb(12,12,12)"/>
<rect x="-10" y="30" width="10.5" height="10.5" fill="rgb(37,37,37)"/>
<rect x="0" y="30" width="10.5" height="10.5" fill="rgb(37,37,37)"/>
<rect x="10" y="30" width="10.5" height="10.5" fill="rgb(37,37,37)"/>
<rect x="20" y="30" width="10.5" height="10.5" fill="rgb(46,46,46)"/>
<rect x="30" y="30" width="10.5" height="10.5" fill="rgb(26,26,26)"/>
<rect x="40" y="30" width="10.5" height="10.5" fill="rgb(17,17,17)"/>
<rect x="50" y="30" width="10.5" height="10.5" fill="rgb(17,17,17)"/>
<rect x="60" y="30" width="10.5" height="10.5" fill="rgb(17,17,17)"/>
<rect x="70" y="30" width="10.5" height="10.5" fill="rgb(21,21,21)"/>
<rect x="80" y="30" width="10.5" height="10.5" fill="rgb(26,26,26)"/>
<rect x="90" y="30" width="10.5" height="10.5" fill="rgb(31,31,31)"/>
<rect x="100" y="30" width="10.5" height="10.5" fill="rgb(26,26,26)"/>
<rect x="110" y="30" width="10.5" height="10.5" fill="rgb(26,26,26)"/>
<rect x="120" y="30" width="10.5" height="10.5" fill="rgb(21,21,21)"/>
<rect x="130" y="30" width="10.5" height="10.5" fill="rgb(12,12,12)"/>
<rect x="140" y="30" width="10.5" height="10.5" fill="rgb(12,12,12)"/>
<rect x="150" y="30" width="10.5" height="10.5" fill="rgb(12,12,12)"/>
<rect x="160" y="30" width="10.5" height="10.5" fill="rgb(12,12,12)"/>
<rect x="-10" y="40" width="10.5" height="10.5" fill="rgb(60,60,60)"/>
<rect x="0" y="40" width="10.5" height="10.5" fill="rgb(60,60,60)"/>
<rect x="10" y="40" width="10.5" height="10.5" fill="rgb(36,36,36)"/>
<rect x="20" y="40" width="10.5" height="10.5" fill="rgb(17,17,17)"/>
<rect x="30" y="40" width="10.5" height="10.5" fill="rgb(21,21,21)"/>
<rect x="40" y="40" width="10.5" height="10.5" fill="rgb(21,21,21)"/>
<rect x="50" y="40" width="10.5" height="10.5" fill="rgb(26,26,26)"/>
<rect x="60" y="40" width="10.5" height="10.5" fill="rgb(21,21,21)"/>
<rect x="70" y="40" width="10.5" height="10.5" fill="rgb(26,26,26)"/>
<rect x="80" y="40" width="10.5" height="10.5" fill="rgb(26,26,26)"/>
<rect x="90" y="40" width="10.5" height="10.5" fill="rgb(31,31,31)"/>
<rect x="100" y="40" width="10.5" height="10.5" fill="rgb(21,21,21)"/>
<rect x="110" y="40" width="10.5" height="10.5" fill="rgb(21,21,21)"/>
<rect x="120" y="40" width="10.5" height="10.5" fill="rgb(17,17,17)"/>
<rect x="130" y="40" width="10.5" height="10.5" fill="rgb(12,12,12)"/>
<rect x="140" y="40" width="10.5" height="10.5" fill="rgb(12,12,12)"/>
<rect x="150" y="40" width="10.5" height="10.5" fill="rgb(12,12,12)"/>
<rect x="160" y="40" width="10.5" height="10.5" fill="rgb(12,12,12)"/>
<rect x="-10" y="50" width="10.5" height="10.5" fill="rgb(37,37,37)"/>
<rect x="0" y="50" width="10.5" height="10.5" fill="rgb(37,37,37)"/>
<rect x="10" y="50" width="10.5" height="10.5" fill="rgb(37,37,37)"/>
<rect x="20" y="50" width="10.5" height="10.5" fill="rgb(17,17,17)"/>
<rect x="30" y="50" width="10.5" height="10.5" fill="rgb(21,21,21)"/>
<rect x="40" y="50" width="10.5" height="10.5" fill="rgb(21,21,21)"/>
<rect x="50" y="50" width="10.5" height="10.5" fill="rgb(21,21,21)"/>
<rect x="60" y="50" width="10.5" height="10.5" fill="rgb(17,17,17)"/>
<rect x="70" y="50" width="10.5" height="10.5" fill="rgb(26,26,26)"/>
<rect x="80" y="50" width="10.5" height="10.5" fill="rgb(41,41,41)"/>
<rect x="90" y="50" width="10.5" height="10.5" fill="rgb(26,26,26)"/>
<rect x="100" y="50" width="10.5" height="10.5" fill="rgb(17,17,17)"/>
<rect x="110" y="50" width="10.5" height="10.5" fill="rgb(14,14,14)"/>
<rect x="120" y="50" width="10.5" height="10.5" fill="rgb(12,12,12)"/>
<rect x="130" y="50" width="10.5" height="10.5" fill="rgb(12,12,12)"/>
<rect x="140" y="50" width="10.5" height="10.5" fill="rgb(12,12,12)"/>
<rect x="150" y="50" width="10.5" height="10.5" fill="rgb(12,12,12)"/>
<rect x="160" y="50" width="10.5" height="10.5" fill="rgb(12,12,12)"/>
<rect x="-10" y="60" width="10.5" height="10.5" fill="rgb(37,37,37)"/>
<rect x="0" y="60" width="10.5" height="10.5" fill="rgb(37,37,37)"/>
<rect x="10" y="60" width="10.5" height="10.5" fill="rgb(37,37,37)"/>
<rect x="20" y="60" width="10.5" height="10.5" fill="rgb(26,26,26)"/>
<rect x="30" y="60" width="10.5" height="10.5" fill="rgb(14,14,14)"/>
<rect x="40" y="60" width="10.5" height="10.5" fill="rgb(14,14,14)"/>
<rect x="50" y="60" width="10.5" height="10.5" fill="rgb(17,17,17)"/>
<rect x="60" y="60" width="10.5" height="10.5" fill="rgb(21,21,21)"/>
<rect x="70" y="60" width="10.5" height="10.5" fill="rgb(31,31,31)"/>
<rect x="80" y="60" width="10.5" height="10.5" fill="rgb(51,51,51)"/>
<rect x="90" y="60" width="10.5" height="10.5" fill="rgb(21,21,21)"/>
<rect x="100" y="60" width="10.5" height="10.5" fill="rgb(14,14,14)"/>
<rect x="110" y="60" width="10.5" height="10.5" fill="rgb(12,12,12)"/>
<rect x="120" y="60" width="10.5" height="10.5" fill="rgb(12,12,12)"/>
<rect x="130" y="60" width="10.5" height="10.5" fill="rgb(12,12,12)"/>
<rect x="140" y="60" width="10.5" height="10.5" fill="rgb(12,12,12)"/>
<rect x="150" y="60" width="10.5" height="10.5" fill="rgb(12,12,12)"/>
<rect x="160" y="60" width="10.5" height="10.5" fill="rgb(12,12,12)"/>
<rect x="-10" y="70" width="10.5" height="10.5" fill="rgb(37,37,37)"/>
<rect x="0" y="70" width="10.5" height="10.5" fill="rgb(37,37,37)"/>
<rect x="10" y="70" width="10.5" height="10.5" fill="rgb(37,37,37)"/>
<rect x="20" y="70" width="10.5" height="10.5" fill="rgb(42,42,42)"/>
<rect x="30" y="70" width="10.5" height="10.5" fill="rgb(14,14,14)"/>
<rect x="40" y="70" width="10.5" height="10.5" fill="rgb(14,14,14)"/>
<rect x="50" y="70" width="10.5" height="10.5" fill="rgb(17,17,17)"/>
<rect x="60" y="70" width="10.5" height="10.5" fill="rgb(31,31,31)"/>
<rect x="70" y="70" width="10.5" height="10.5" fill="rgb(36,36,36)"/>
<rect x="80" y="70" width="10.5" height="10.5" fill="rgb(112,112,112)"/>
<rect x="90" y="70" width="10.5" height="10.5" fill="rgb(31,31,31)"/>
<rect x="100" y="70" width="10.5" height="10.5" fill="rgb(14,14,14)"/>
<rect x="110" y="70" width="10.5" height="10.5" fill="rgb(12,12,12)"/>
<rect x="120" y="70" width="10.5" height="10.5" fill="rgb(12,12,12)"/>
<rect x="130" y="70" width="10.5" height="10.5" fill="rgb(15,15,15)"/>
<rect x="140" y="70" width="10.5" height="10.5" fill="rgb(14,14,14)"/>
<rect x="150" y="70" width="10.5" height="10.5" fill="rgb(12,12,12)"/>
<rect x="160" y="70" width="10.5" height="10.5" fill="rgb(12,12,12)"/>
<rect x="-10" y="80" width="10.5" height="10.5" fill="rgb(37,37,37)"/>
<rect x="0" y="80" width="10.5" height="10.5" fill="rgb(37,37,37)"/>
<rect x="10" y="80" width="10.5" height="10.5" fill="rgb(37,37,37)"/>
<rect x="20" y="80" width="10.5" height="10.5" fill="rgb(37,37,37)"/>
<rect x="30" y="80" width="10.5" height="10.5" fill="rgb(31,31,31)"/>
<rect x="40" y="80" width="10.5" height="10.5" fill="rgb(14,14,14)"/>
<rect x="50" y="80" width="10.5" height="10.5" fill="rgb(14,14,14)"/>
<rect x="60" y="80" width="10.5" height="10.5" fill="rgb(17,17,17)"/>
<rect x="70" y="80" width="10.5" height="10.5" fill="rgb(51,51,51)"/>
<rect x="80" y="80" width="10.5" height="10.5" fill="rgb(86,86,86)"/>
<rect x="90" y="80" width="10.5" height="10.5" fill="rgb(17,17,17)"/>
<rect x="100" y="80" width="10.5" height="10.5" fill="rgb(12,12,12)"/>
<rect x="110" y="80" width="10.5" height="10.5" fill="rgb(12,12,12)"/>
<rect x="120" y="80" width="10.5" height="10.5" fill="rgb(12,12,12)"/>
<rect x="130" y="80" width="10.5" height="10.5" fill="rgb(17,17,17)"/>
<rect x="140" y="80" width="10.5" height="10.5" fill="rgb(21,21,21)"/>
<rect x="150" y="80" width="10.5" height="10.5" fill="rgb(14,14,14)"/>
<rect x="160" y="80" width="10.5" height="10.5" fill="rgb(14,14,14)"/>
<rect x="-10" y="90" width="10.5" height="10.5" fill="rgb(37,37,37)"/>
<rect x="0" y="90" width="10.5" height="10.5" fill="rgb(37,37,37)"/>
<rect x="10" y="90" width="10.5" height="10.5" fill="rgb(37,37,37)"/>
<rect x="20" y="90" width="10.5" height="10.5" fill="rgb(37,37,37)"/>
<rect x="30" y="90" width="10.5" height="10.5" fill="rgb(42,42,42)"/>
<rect x="40" y="90" width="10.5" height="10.5" fill="rgb(31,31,31)"/>
<rect x="50" y="90" width="10.5" height="10.5" fill="rgb(26,26,26)"/>
<rect x="60" y="90" width="10.5" height="10.5" fill="rgb(21,21,21)"/>
<rect x="70" y="90" width="10.5" height="10.5" fill="rgb(36,36,36)"/>
<rect x="80" y="90" width="10.5" height="10.5" fill="rgb(36,36,36)"/>
<rect x="90" y="90" width="10.5" height="10.5" fill="rgb(17,17,17)"/>
<rect x="100" y="90" width="10.5" height="10.5" fill="rgb(12,12,12)"/>
<rect x="110" y="90" width="10.5" height="10.5" fill="rgb(12,12,12)"/>
<rect x="120" y="90" width="10.5" height="10.5" fill="rgb(12,12,12)"/>
<rect x="130" y="90" width="10.5" height="10.5" fill="rgb(12,12,12)"/>
<rect x="140" y="90" width="10.5" height="10.5" fill="rgb(17,17,17)"/>
<rect x="150" y="90" width="10.5" height="10.5" fill="rgb(14,14,14)"/>
<rect x="160" y="90" width="10.5" height="10.5" fill="rgb(14,14,14)"/>
<rect x="-10" y="100" width="10.5" height="10.5" fill="rgb(37,37,37)"/>
<rect x="0" y="100" width="10.5" height="10.5" fill="rgb(37,37,37)"/>
<rect x="10" y="100" width="10.5" height="10.5" fill="rgb(37,37,37)"/>
<rect x="20" y="100" width="10.5" height="10.5" fill="rgb(37,37,37)"/>
<rect x="30" y="100" width="10.5" height="10.5" fill="rgb(37,37,37)"/>
<rect x="40" y="100" width="10.5" height="10.5" fill="rgb(31,31,31)"/>
<rect x="50" y="100" width="10.5" height="10.5" fill="rgb(17,17,17)"/>
<rect x="60" y="100" width="10.5" height="10.5" fill="rgb(21,21,21)"/>
<rect x="70" y="100" width="10.5" height="10.5" fill="rgb(17,17,17)"/>
<rect x="80" y="100" width="10.5" height="10.5" fill="rgb(17,17,17)"/>
<rect x="90" y="100" width="10.5" height="10.5" fill="rgb(12,12,12)"/>
<rect x="100" y="100" width="10.5" height="10.5" fill="rgb(12,12,12)"/>
<rect x="110" y="100" width="10.5" height="10.5" fill="rgb(12,12,12)"/>
<rect x="120" y="100" width="10.5" height="10.5" fill="rgb(12,12,12)"/>
<rect x="130" y="100" width="10.5" height="10.5" fill="rgb(12,12,12)"/>
<rect x="140" y="100" width="10.5" height="10.5" fill="rgb(12,12,12)"/>
<rect x="150" y="100" width="10.5" height="10.5" fill="rgb(12,12,12)"/>
<rect x="160" y="100" width="10.5" height="10.5" fill="rgb(12,12,12)"/>
<rect x="-10" y="110" width="10.5" height="10.5" fill="rgb(37,37,37)"/>
<rect x="0" y="110" width="10.5" height="10.5" fill="rgb(37,37,37)"/>
<rect x="10" y="110" width="10.5" height="10.5" fill="rgb(37,37,37)"/>
<rect x="20" y="110" width="10.5" height="10.5" fill="rgb(37,37,37)"/>
<rect x="30" y="110" width="10.5" height="10.5" fill="rgb(37,37,37)"/>
<rect x="40" y="110" width="10.5" height="10.5" fill="rgb(37,37,37)"/>
<rect x="50" y="110" width="10.5" height="10.5" fill="rgb(14,14,14)"/>
<rect x="60" y="110" width="10.5" height="10.5" fill="rgb(14,14,14)"/>
<rect x="70" y="110" width="10.5" height="10.5" fill="rgb(12,12,12)"/>
<rect x="80" y="110" width="10.5" height="10.5" fill="rgb(12,12,12)"/>
<rect x="90" y="110" width="10.5" height="10.5" fill="rgb(12,12,12)"/>
<rect x="100" y="110" width="10.5" height="10.5" fill="rgb(12,12,12)"/>
<rect x="110" y="110" width="10.5" height="10.5" fill="rgb(12,12,12)"/>
<rect x="120" y="110" width="10.5" height="10.5" fill="rgb(12,12,12)"/>
<rect x="130" y="110" width="10.5" height="10.5" fill="rgb(12,12,12)"/>
<rect x="140" y="110" width="10.5" height="10.5" fill="rgb(12,12,12)"/>
<rect x="150" y="110" width="10.5" height="10.5" fill="rgb(12,12,12)"/>
<rect x="160" y="110" width="10.5" height="10.5" fill="rgb(12,12,12)"/>
<rect x="-10" y="120" width="10.5" height="10.5" fill="rgb(37,37,37)"/>
<rect x="0" y="120" width="10.5" height="10.5" fill="rgb(37,37,37)"/>
<rect x="10" y="120" width="10.5" height="10.5" fill="rgb(42,42,42)"/>
<rect x="20" y="120" width="10.5" height="10.5" fill="rgb(42,42,42)"/>
<rect x="30" y="120" width="10.5" height="10.5" fill="rgb(42,42,42)"/>
<rect x="40" y="120" width="10.5" height="10.5" fill="rgb(37,37,37)"/>
<rect x="50" y="120" width="10.5" height="10.5" fill="rgb(26,26,26)"/>
<rect x="60" y="120" width="10.5" height="10.5" fill="rgb(12,12,12)"/>
<rect x="70" y="120" width="10.5" height="10.5" fill="rgb(12,12,12)"/>
<rect x="80" y="120" width="10.5" height="10.5" fill="rgb(12,12,12)"/>
<rect x="90" y="120" width="10.5" height="10.5" fill="rgb(12,12,12)"/>
<rect x="100" y="120" width="10.5" height="10.5" fill="rgb(12,12,12)"/>
<rect x="110" y="120" width="10.5" height="10.5" fill="rgb(12,12,12)"/>
<rect x="120" y="120" width="10.5" height="10.5" fill="rgb(12,12,12)"/>
<rect x="130" y="120" width="10.5" height="10.5" fill="rgb(12,12,12)"/>
<rect x="140" y="120" width="10.5" height="10.5" fill="rgb(17,17,17)"/>
<rect x="150" y="120" width="10.5" height="10.5" fill="rgb(21,21,21)"/>
<rect x="160" y="120" width="10.5" height="10.5" fill="rgb(21,21,21)"/>
<rect x="-10" y="130" width="10.5" height="10.5" fill="rgb(37,37,37)"/>
<rect x="0" y="130" width="10.5" height="10.5" fill="rgb(37,37,37)"/>
<rect x="10" y="130" width="10.5" height="10.5" fill="rgb(42,42,42)"/>
<rect x="20" y="130" width="10.5" height="10.5" fill="rgb(42,42,42)"/>
<rect x="30" y="130" width="10.5" height="10.5" fill="rgb(37,37,37)"/>
<rect x="40" y="130" width="10.5" height="10.5" fill="rgb(37,37,37)"/>
<rect x="50" y="130" width="10.5" height="10.5" fill="rgb(37,37,37)"/>
<rect x="60" y="130" width="10.5" height="10.5" fill="rgb(14,14,14)"/>
<rect x="70" y="130" width="10.5" height="10.5" fill="rgb(12,12,12)"/>
<rect x="80" y="130" width="10.5" height="10.5" fill="rgb(12,12,12)"/>
<rect x="90" y="130" width="10.5" height="10.5" fill="rgb(12,12,12)"/>
<rect x="100" y="130" width="10.5" height="10.5" fill="rgb(12,12,12)"/>
<rect x="110" y="130" width="10.5" height="10.5" fill="rgb(12,12,12)"/>
<rect x="120" y="130" width="10.5" height="10.5" fill="rgb(12,12,12)"/>
<rect x="130" y="130" width="10.5" height="10.5" fill="rgb(17,17,17)"/>
<rect x="140" y="130" width="10.5" height="10.5" fill="rgb(26,26,26)"/>
<rect x="150" y="130" width="10.5" height="10.5" fill="rgb(26,26,26)"/>
<rect x="160" y="130" width="10.5" height="10.5" fill="rgb(26,26,26)"/>
<rect x="-10" y="140" width="10.5" height="10.5" fill="rgb(37,37,37)"/>
<rect x="0" y="140" width="10.5" height="10.5" fill="rgb(37,37,37)"/>
<rect x="10" y="140" width="10.5" height="10.5" fill="rgb(42,42,42)"/>
<rect x="20" y="140" width="10.5" height="10.5" fill="rgb(42,42,42)"/>
<rect x="30" y="140" width="10.5" height="10.5" fill="rgb(37,37,37)"/>
<rect x="40" y="140" width="10.5" height="10.5" fill="rgb(37,37,37)"/>
<rect x="50" y="140" width="10.5" height="10.5" fill="rgb(37,37,37)"/>
<rect x="60" y="140" width="10.5" height="10.5" fill="rgb(14,14,14)"/>
<rect x="70" y="140" width="10.5" height="10.5" fill="rgb(12,12,12)"/>
<rect x="80" y="140" width="10.5" height="10.5" fill="rgb(12,12,12)"/>
<rect x="90" y="140" width="10.5" height="10.5" fill="rgb(12,12,12)"/>
<rect x="100" y="140" width="10.5" height="10.5" fill="rgb(12,12,12)"/>
<rect x="110" y="140" width="10.5" height="10.5" fill="rgb(12,12,12)"/>
<rect x="120" y="140" width="10.5" height="10.5" fill="rgb(12,12,12)"/>
<rect x="130" y="140" width="10.5" height="10.5" fill="rgb(17,17,17)"/>
<rect x="140" y="140" width="10.5" height="10.5" fill="rgb(26,26,26)"/>
<rect x="150" y="140" width="10.5" height="10.5" fill="rgb(26,26,26)"/>
<rect x="160" y="140" width="10.5" height="10.5" fill="rgb(26,26,26)"/>
</g>
<ellipse cx="80" cy="66" rx="6" ry="5" fill="rgb(95,95,95)" filter="url(#bl2)"/>
<ellipse cx="86" cy="74" rx="6" ry="6" fill="rgb(100,100,100)" filter="url(#bl2)"/>
<ellipse cx="75" cy="77" rx="5" ry="4" fill="rgb(90,90,90)" filter="url(#bl2)"/>
<ellipse cx="88" cy="60" rx="4" ry="4" fill="rgb(100,100,100)" filter="url(#bl2)"/>
<ellipse cx="70" cy="70" rx="4" ry="3" fill="rgb(80,80,80)" filter="url(#bl2)"/>
<ellipse cx="92" cy="82" rx="4" ry="3" fill="rgb(70,70,70)" filter="url(#bl2)"/>
<ellipse cx="60" cy="18" rx="5" ry="3" fill="rgb(62,62,62)" filter="url(#bl2)"/>
<ellipse cx="75" cy="14" rx="4" ry="3" fill="rgb(65,65,65)" filter="url(#bl2)"/>
<ellipse cx="90" cy="24" rx="5" ry="3" fill="rgb(60,60,60)" filter="url(#bl2)"/>
<ellipse cx="105" cy="32" rx="4" ry="3" fill="rgb(58,58,58)" filter="url(#bl2)"/>
<ellipse cx="100" cy="46" rx="4" ry="3" fill="rgb(55,55,55)" filter="url(#bl2)"/>
<ellipse cx="115" cy="20" rx="4" ry="3" fill="rgb(55,55,55)" filter="url(#bl2)"/>
<ellipse cx="48" cy="30" rx="4" ry="2.5" fill="rgb(55,55,55)" filter="url(#bl2)"/>
<ellipse cx="68" cy="40" rx="4" ry="2.5" fill="rgb(55,55,55)" filter="url(#bl2)"/>
<ellipse cx="92.7" cy="20.7" rx="2" ry="2" fill="rgb(150,150,150)" filter="url(#bl1)"/>
<ellipse cx="95.6" cy="28" rx="2" ry="1.5" fill="rgb(120,120,120)" filter="url(#bl1)"/>
<ellipse cx="105" cy="22" rx="3" ry="2" fill="rgb(90,90,90)" filter="url(#bl1)"/>
<ellipse cx="112" cy="35" rx="3" ry="2" fill="rgb(80,80,80)" filter="url(#bl1)"/>
<ellipse cx="78.3" cy="84.1" rx="2.6" ry="2.6" fill="rgb(245,245,245)" filter="url(#bl1)"/>
<ellipse cx="75.8" cy="92.4" rx="2" ry="2" fill="rgb(180,180,180)" filter="url(#bl1)"/>
<ellipse cx="86" cy="57.4" rx="2" ry="2" fill="rgb(210,210,210)" filter="url(#bl1)"/>
<ellipse cx="61.3" cy="27.9" rx="1.6" ry="3.2" fill="rgb(210,210,210)" filter="url(#bl1)"/>
<ellipse cx="29" cy="29.6" rx="3" ry="1.8" fill="rgb(190,190,190)" filter="url(#bl1)"/>
<ellipse cx="10.5" cy="41" rx="3.5" ry="3.5" fill="rgb(130,130,130)" filter="url(#bl1)"/>
<ellipse cx="61.1" cy="72.7" rx="3" ry="1.4" fill="rgb(130,130,130)" filter="url(#bl1)"/>
</g>
<path d="M96,0 L9.6,40.2 L59.5,136.2" fill="none" stroke="rgb(125,125,125)" stroke-width="3" stroke-opacity="0.55" filter="url(#bl1)"/>
</g>
<text x="6.6" y="15.6" font-size="12.6" font-weight="bold" fill="#f4f4f4" font-family="'Liberation Sans', Arial, sans-serif" textLength="10.2" lengthAdjust="spacingAndGlyphs">c)</text>
<text x="117.6" y="15.6" font-size="12.2" font-weight="bold" fill="#f4f4f4" font-family="'Liberation Sans', Arial, sans-serif" textLength="34.0" lengthAdjust="spacingAndGlyphs">Fe 3p</text>
<text x="11.2" y="124.3" font-size="10.2" font-weight="bold" fill="#f2f2f2" font-family="'Liberation Sans', Arial, sans-serif" textLength="31.8" lengthAdjust="spacingAndGlyphs">10 µm</text>
<rect x="10.799999999999999" y="127.5" width="31.4" height="1.5" fill="#f2f2f2"/>
<text x="138.99999999999997" y="45.400000000000006" font-size="17.4" font-weight="bold" fill="#1f86dc" font-family="'Liberation Sans', Arial, sans-serif" transform="translate(138.99999999999997 45.400000000000006) scale(0.8 1) translate(-138.99999999999997 -45.400000000000006)">B</text>
<path d="M134.20000000000002,44.099999999999994 L126.39999999999998,49.80000000000002" stroke="#1f86dc" stroke-width="1.7"/>
<path d="M123.79999999999998,51.70000000000002 L125.39999999999998,47.100000000000016 L128.7,51.500000000000014Z" fill="#1f86dc"/>
<text x="124.6" y="109.6" font-size="18" font-weight="bold" fill="#f01418" font-family="'Liberation Sans', Arial, sans-serif">A</text>
<path d="M121.29999999999998,101.50000000000003 L88.49999999999997,87.40000000000002" stroke="#f01418" stroke-width="2.2"/>
<path d="M83.49999999999997,85.20000000000002 L88.69999999999997,82.60000000000002 L86.09999999999997,91.00000000000001Z" fill="#f01418"/>
<rect x="0" y="0" width="157.4" height="136.2" fill="none" stroke="#c8c8c8" stroke-width="1.1"/>
</g>
<g transform="translate(24.6,330.5)">
<g clip-path="url(#clipd)"><g filter="url(#tex)">
<g filter="url(#gb)">
<rect x="-10" y="-10" width="10.5" height="10.5" fill="rgb(54,54,54)"/>
<rect x="0" y="-10" width="10.5" height="10.5" fill="rgb(54,54,54)"/>
<rect x="10" y="-10" width="10.5" height="10.5" fill="rgb(60,60,60)"/>
<rect x="20" y="-10" width="10.5" height="10.5" fill="rgb(54,54,54)"/>
<rect x="30" y="-10" width="10.5" height="10.5" fill="rgb(54,54,54)"/>
<rect x="40" y="-10" width="10.5" height="10.5" fill="rgb(54,54,54)"/>
<rect x="50" y="-10" width="10.5" height="10.5" fill="rgb(60,60,60)"/>
<rect x="60" y="-10" width="10.5" height="10.5" fill="rgb(54,54,54)"/>
<rect x="70" y="-10" width="10.5" height="10.5" fill="rgb(54,54,54)"/>
<rect x="80" y="-10" width="10.5" height="10.5" fill="rgb(99,99,99)"/>
<rect x="90" y="-10" width="10.5" height="10.5" fill="rgb(86,86,86)"/>
<rect x="100" y="-10" width="10.5" height="10.5" fill="rgb(86,86,86)"/>
<rect x="110" y="-10" width="10.5" height="10.5" fill="rgb(60,60,60)"/>
<rect x="120" y="-10" width="10.5" height="10.5" fill="rgb(37,37,37)"/>
<rect x="130" y="-10" width="10.5" height="10.5" fill="rgb(12,12,12)"/>
<rect x="140" y="-10" width="10.5" height="10.5" fill="rgb(8,8,8)"/>
<rect x="150" y="-10" width="10.5" height="10.5" fill="rgb(8,8,8)"/>
<rect x="160" y="-10" width="10.5" height="10.5" fill="rgb(8,8,8)"/>
<rect x="-10" y="0" width="10.5" height="10.5" fill="rgb(54,54,54)"/>
<rect x="0" y="0" width="10.5" height="10.5" fill="rgb(54,54,54)"/>
<rect x="10" y="0" width="10.5" height="10.5" fill="rgb(60,60,60)"/>
<rect x="20" y="0" width="10.5" height="10.5" fill="rgb(54,54,54)"/>
<rect x="30" y="0" width="10.5" height="10.5" fill="rgb(54,54,54)"/>
<rect x="40" y="0" width="10.5" height="10.5" fill="rgb(54,54,54)"/>
<rect x="50" y="0" width="10.5" height="10.5" fill="rgb(60,60,60)"/>
<rect x="60" y="0" width="10.5" height="10.5" fill="rgb(54,54,54)"/>
<rect x="70" y="0" width="10.5" height="10.5" fill="rgb(54,54,54)"/>
<rect x="80" y="0" width="10.5" height="10.5" fill="rgb(99,99,99)"/>
<rect x="90" y="0" width="10.5" height="10.5" fill="rgb(86,86,86)"/>
<rect x="100" y="0" width="10.5" height="10.5" fill="rgb(86,86,86)"/>
<rect x="110" y="0" width="10.5" height="10.5" fill="rgb(60,60,60)"/>
<rect x="120" y="0" width="10.5" height="10.5" fill="rgb(37,37,37)"/>
<rect x="130" y="0" width="10.5" height="10.5" fill="rgb(12,12,12)"/>
<rect x="140" y="0" width="10.5" height="10.5" fill="rgb(8,8,8)"/>
<rect x="150" y="0" width="10.5" height="10.5" fill="rgb(8,8,8)"/>
<rect x="160" y="0" width="10.5" height="10.5" fill="rgb(8,8,8)"/>
<rect x="-10" y="10" width="10.5" height="10.5" fill="rgb(48,48,48)"/>
<rect x="0" y="10" width="10.5" height="10.5" fill="rgb(48,48,48)"/>
<rect x="10" y="10" width="10.5" height="10.5" fill="rgb(54,54,54)"/>
<rect x="20" y="10" width="10.5" height="10.5" fill="rgb(54,54,54)"/>
<rect x="30" y="10" width="10.5" height="10.5" fill="rgb(48,48,48)"/>
<rect x="40" y="10" width="10.5" height="10.5" fill="rgb(48,48,48)"/>
<rect x="50" y="10" width="10.5" height="10.5" fill="rgb(37,37,37)"/>
<rect x="60" y="10" width="10.5" height="10.5" fill="rgb(31,31,31)"/>
<rect x="70" y="10" width="10.5" height="10.5" fill="rgb(48,48,48)"/>
<rect x="80" y="10" width="10.5" height="10.5" fill="rgb(112,112,112)"/>
<rect x="90" y="10" width="10.5" height="10.5" fill="rgb(60,60,60)"/>
<rect x="100" y="10" width="10.5" height="10.5" fill="rgb(86,86,86)"/>
<rect x="110" y="10" width="10.5" height="10.5" fill="rgb(73,73,73)"/>
<rect x="120" y="10" width="10.5" height="10.5" fill="rgb(42,42,42)"/>
<rect x="130" y="10" width="10.5" height="10.5" fill="rgb(9,9,9)"/>
<rect x="140" y="10" width="10.5" height="10.5" fill="rgb(8,8,8)"/>
<rect x="150" y="10" width="10.5" height="10.5" fill="rgb(8,8,8)"/>
<rect x="160" y="10" width="10.5" height="10.5" fill="rgb(8,8,8)"/>
<rect x="-10" y="20" width="10.5" height="10.5" fill="rgb(48,48,48)"/>
<rect x="0" y="20" width="10.5" height="10.5" fill="rgb(48,48,48)"/>
<rect x="10" y="20" width="10.5" height="10.5" fill="rgb(48,48,48)"/>
<rect x="20" y="20" width="10.5" height="10.5" fill="rgb(48,48,48)"/>
<rect x="30" y="20" width="10.5" height="10.5" fill="rgb(20,20,20)"/>
<rect x="40" y="20" width="10.5" height="10.5" fill="rgb(16,16,16)"/>
<rect x="50" y="20" width="10.5" height="10.5" fill="rgb(20,20,20)"/>
<rect x="60" y="20" width="10.5" height="10.5" fill="rgb(25,25,25)"/>
<rect x="70" y="20" width="10.5" height="10.5" fill="rgb(54,54,54)"/>
<rect x="80" y="20" width="10.5" height="10.5" fill="rgb(86,86,86)"/>
<rect x="90" y="20" width="10.5" height="10.5" fill="rgb(125,125,125)"/>
<rect x="100" y="20" width="10.5" height="10.5" fill="rgb(86,86,86)"/>
<rect x="110" y="20" width="10.5" height="10.5" fill="rgb(60,60,60)"/>
<rect x="120" y="20" width="10.5" height="10.5" fill="rgb(60,60,60)"/>
<rect x="130" y="20" width="10.5" height="10.5" fill="rgb(12,12,12)"/>
<rect x="140" y="20" width="10.5" height="10.5" fill="rgb(8,8,8)"/>
<rect x="150" y="20" width="10.5" height="10.5" fill="rgb(8,8,8)"/>
<rect x="160" y="20" width="10.5" height="10.5" fill="rgb(8,8,8)"/>
<rect x="-10" y="30" width="10.5" height="10.5" fill="rgb(48,48,48)"/>
<rect x="0" y="30" width="10.5" height="10.5" fill="rgb(48,48,48)"/>
<rect x="10" y="30" width="10.5" height="10.5" fill="rgb(99,99,99)"/>
<rect x="20" y="30" width="10.5" height="10.5" fill="rgb(31,31,31)"/>
<rect x="30" y="30" width="10.5" height="10.5" fill="rgb(37,37,37)"/>
<rect x="40" y="30" width="10.5" height="10.5" fill="rgb(54,54,54)"/>
<rect x="50" y="30" width="10.5" height="10.5" fill="rgb(73,73,73)"/>
<rect x="60" y="30" width="10.5" height="10.5" fill="rgb(42,42,42)"/>
<rect x="70" y="30" width="10.5" height="10.5" fill="rgb(60,60,60)"/>
<rect x="80" y="30" width="10.5" height="10.5" fill="rgb(125,125,125)"/>
<rect x="90" y="30" width="10.5" height="10.5" fill="rgb(112,112,112)"/>
<rect x="100" y="30" width="10.5" height="10.5" fill="rgb(54,54,54)"/>
<rect x="110" y="30" width="10.5" height="10.5" fill="rgb(48,48,48)"/>
<rect x="120" y="30" width="10.5" height="10.5" fill="rgb(99,99,99)"/>
<rect x="130" y="30" width="10.5" height="10.5" fill="rgb(12,12,12)"/>
<rect x="140" y="30" width="10.5" height="10.5" fill="rgb(8,8,8)"/>
<rect x="150" y="30" width="10.5" height="10.5" fill="rgb(8,8,8)"/>
<rect x="160" y="30" width="10.5" height="10.5" fill="rgb(8,8,8)"/>
<rect x="-10" y="40" width="10.5" height="10.5" fill="rgb(48,48,48)"/>
<rect x="0" y="40" width="10.5" height="10.5" fill="rgb(48,48,48)"/>
<rect x="10" y="40" width="10.5" height="10.5" fill="rgb(37,37,37)"/>
<rect x="20" y="40" width="10.5" height="10.5" fill="rgb(60,60,60)"/>
<rect x="30" y="40" width="10.5" height="10.5" fill="rgb(16,16,16)"/>
<rect x="40" y="40" width="10.5" height="10.5" fill="rgb(9,9,9)"/>
<rect x="50" y="40" width="10.5" height="10.5" fill="rgb(16,16,16)"/>
<rect x="60" y="40" width="10.5" height="10.5" fill="rgb(54,54,54)"/>
<rect x="70" y="40" width="10.5" height="10.5" fill="rgb(48,48,48)"/>
<rect x="80" y="40" width="10.5" height="10.5" fill="rgb(138,138,138)"/>
<rect x="90" y="40" width="10.5" height="10.5" fill="rgb(99,99,99)"/>
<rect x="100" y="40" width="10.5" height="10.5" fill="rgb(31,31,31)"/>
<rect x="110" y="40" width="10.5" height="10.5" fill="rgb(20,20,20)"/>
<rect x="120" y="40" width="10.5" height="10.5" fill="rgb(60,60,60)"/>
<rect x="130" y="40" width="10.5" height="10.5" fill="rgb(9,9,9)"/>
<rect x="140" y="40" width="10.5" height="10.5" fill="rgb(8,8,8)"/>
<rect x="150" y="40" width="10.5" height="10.5" fill="rgb(8,8,8)"/>
<rect x="160" y="40" width="10.5" height="10.5" fill="rgb(8,8,8)"/>
<rect x="-10" y="50" width="10.5" height="10.5" fill="rgb(48,48,48)"/>
<rect x="0" y="50" width="10.5" height="10.5" fill="rgb(48,48,48)"/>
<rect x="10" y="50" width="10.5" height="10.5" fill="rgb(42,42,42)"/>
<rect x="20" y="50" width="10.5" height="10.5" fill="rgb(48,48,48)"/>
<rect x="30" y="50" width="10.5" height="10.5" fill="rgb(12,12,12)"/>
<rect x="40" y="50" width="10.5" height="10.5" fill="rgb(8,8,8)"/>
<rect x="50" y="50" width="10.5" height="10.5" fill="rgb(12,12,12)"/>
<rect x="60" y="50" width="10.5" height="10.5" fill="rgb(60,60,60)"/>
<rect x="70" y="50" width="10.5" height="10.5" fill="rgb(112,112,112)"/>
<rect x="80" y="50" width="10.5" height="10.5" fill="rgb(164,164,164)"/>
<rect x="90" y="50" width="10.5" height="10.5" fill="rgb(125,125,125)"/>
<rect x="100" y="50" width="10.5" height="10.5" fill="rgb(16,16,16)"/>
<rect x="110" y="50" width="10.5" height="10.5" fill="rgb(12,12,12)"/>
<rect x="120" y="50" width="10.5" height="10.5" fill="rgb(25,25,25)"/>
<rect x="130" y="50" width="10.5" height="10.5" fill="rgb(8,8,8)"/>
<rect x="140" y="50" width="10.5" height="10.5" fill="rgb(8,8,8)"/>
<rect x="150" y="50" width="10.5" height="10.5" fill="rgb(8,8,8)"/>
<rect x="160" y="50" width="10.5" height="10.5" fill="rgb(8,8,8)"/>
<rect x="-10" y="60" width="10.5" height="10.5" fill="rgb(42,42,42)"/>
<rect x="0" y="60" width="10.5" height="10.5" fill="rgb(42,42,42)"/>
<rect x="10" y="60" width="10.5" height="10.5" fill="rgb(42,42,42)"/>
<rect x="20" y="60" width="10.5" height="10.5" fill="rgb(42,42,42)"/>
<rect x="30" y="60" width="10.5" height="10.5" fill="rgb(16,16,16)"/>
<rect x="40" y="60" width="10.5" height="10.5" fill="rgb(8,8,8)"/>
<rect x="50" y="60" width="10.5" height="10.5" fill="rgb(12,12,12)"/>
<rect x="60" y="60" width="10.5" height="10.5" fill="rgb(54,54,54)"/>
<rect x="70" y="60" width="10.5" height="10.5" fill="rgb(125,125,125)"/>
<rect x="80" y="60" width="10.5" height="10.5" fill="rgb(151,151,151)"/>
<rect x="90" y="60" width="10.5" height="10.5" fill="rgb(86,86,86)"/>
<rect x="100" y="60" width="10.5" height="10.5" fill="rgb(9,9,9)"/>
<rect x="110" y="60" width="10.5" height="10.5" fill="rgb(8,8,8)"/>
<rect x="120" y="60" width="10.5" height="10.5" fill="rgb(8,8,8)"/>
<rect x="130" y="60" width="10.5" height="10.5" fill="rgb(8,8,8)"/>
<rect x="140" y="60" width="10.5" height="10.5" fill="rgb(8,8,8)"/>
<rect x="150" y="60" width="10.5" height="10.5" fill="rgb(8,8,8)"/>
<rect x="160" y="60" width="10.5" height="10.5" fill="rgb(8,8,8)"/>
<rect x="-10" y="70" width="10.5" height="10.5" fill="rgb(48,48,48)"/>
<rect x="0" y="70" width="10.5" height="10.5" fill="rgb(48,48,48)"/>
<rect x="10" y="70" width="10.5" height="10.5" fill="rgb(54,54,54)"/>
<rect x="20" y="70" width="10.5" height="10.5" fill="rgb(54,54,54)"/>
<rect x="30" y="70" width="10.5" height="10.5" fill="rgb(31,31,31)"/>
<rect x="40" y="70" width="10.5" height="10.5" fill="rgb(9,9,9)"/>
<rect x="50" y="70" width="10.5" height="10.5" fill="rgb(16,16,16)"/>
<rect x="60" y="70" width="10.5" height="10.5" fill="rgb(60,60,60)"/>
<rect x="70" y="70" width="10.5" height="10.5" fill="rgb(138,138,138)"/>
<rect x="80" y="70" width="10.5" height="10.5" fill="rgb(177,177,177)"/>
<rect x="90" y="70" width="10.5" height="10.5" fill="rgb(60,60,60)"/>
<rect x="100" y="70" width="10.5" height="10.5" fill="rgb(8,8,8)"/>
<rect x="110" y="70" width="10.5" height="10.5" fill="rgb(8,8,8)"/>
<rect x="120" y="70" width="10.5" height="10.5" fill="rgb(8,8,8)"/>
<rect x="130" y="70" width="10.5" height="10.5" fill="rgb(16,16,16)"/>
<rect x="140" y="70" width="10.5" height="10.5" fill="rgb(20,20,20)"/>
<rect x="150" y="70" width="10.5" height="10.5" fill="rgb(12,12,12)"/>
<rect x="160" y="70" width="10.5" height="10.5" fill="rgb(12,12,12)"/>
<rect x="-10" y="80" width="10.5" height="10.5" fill="rgb(48,48,48)"/>
<rect x="0" y="80" width="10.5" height="10.5" fill="rgb(48,48,48)"/>
<rect x="10" y="80" width="10.5" height="10.5" fill="rgb(48,48,48)"/>
<rect x="20" y="80" width="10.5" height="10.5" fill="rgb(54,54,54)"/>
<rect x="30" y="80" width="10.5" height="10.5" fill="rgb(42,42,42)"/>
<rect x="40" y="80" width="10.5" height="10.5" fill="rgb(16,16,16)"/>
<rect x="50" y="80" width="10.5" height="10.5" fill="rgb(48,48,48)"/>
<rect x="60" y="80" width="10.5" height="10.5" fill="rgb(54,54,54)"/>
<rect x="70" y="80" width="10.5" height="10.5" fill="rgb(99,99,99)"/>
<rect x="80" y="80" width="10.5" height="10.5" fill="rgb(138,138,138)"/>
<rect x="90" y="80" width="10.5" height="10.5" fill="rgb(42,42,42)"/>
<rect x="100" y="80" width="10.5" height="10.5" fill="rgb(8,8,8)"/>
<rect x="110" y="80" width="10.5" height="10.5" fill="rgb(8,8,8)"/>
<rect x="120" y="80" width="10.5" height="10.5" fill="rgb(20,20,20)"/>
<rect x="130" y="80" width="10.5" height="10.5" fill="rgb(31,31,31)"/>
<rect x="140" y="80" width="10.5" height="10.5" fill="rgb(25,25,25)"/>
<rect x="150" y="80" width="10.5" height="10.5" fill="rgb(16,16,16)"/>
<rect x="160" y="80" width="10.5" height="10.5" fill="rgb(16,16,16)"/>
<rect x="-10" y="90" width="10.5" height="10.5" fill="rgb(42,42,42)"/>
<rect x="0" y="90" width="10.5" height="10.5" fill="rgb(42,42,42)"/>
<rect x="10" y="90" width="10.5" height="10.5" fill="rgb(48,48,48)"/>
<rect x="20" y="90" width="10.5" height="10.5" fill="rgb(54,54,54)"/>
<rect x="30" y="90" width="10.5" height="10.5" fill="rgb(54,54,54)"/>
<rect x="40" y="90" width="10.5" height="10.5" fill="rgb(54,54,54)"/>
<rect x="50" y="90" width="10.5" height="10.5" fill="rgb(31,31,31)"/>
<rect x="60" y="90" width="10.5" height="10.5" fill="rgb(48,48,48)"/>
<rect x="70" y="90" width="10.5" height="10.5" fill="rgb(48,48,48)"/>
<rect x="80" y="90" width="10.5" height="10.5" fill="rgb(60,60,60)"/>
<rect x="90" y="90" width="10.5" height="10.5" fill="rgb(20,20,20)"/>
<rect x="100" y="90" width="10.5" height="10.5" fill="rgb(8,8,8)"/>
<rect x="110" y="90" width="10.5" height="10.5" fill="rgb(8,8,8)"/>
<rect x="120" y="90" width="10.5" height="10.5" fill="rgb(8,8,8)"/>
<rect x="130" y="90" width="10.5" height="10.5" fill="rgb(12,12,12)"/>
<rect x="140" y="90" width="10.5" height="10.5" fill="rgb(8,8,8)"/>
<rect x="150" y="90" width="10.5" height="10.5" fill="rgb(8,8,8)"/>
<rect x="160" y="90" width="10.5" height="10.5" fill="rgb(8,8,8)"/>
<rect x="-10" y="100" width="10.5" height="10.5" fill="rgb(42,42,42)"/>
<rect x="0" y="100" width="10.5" height="10.5" fill="rgb(42,42,42)"/>
<rect x="10" y="100" width="10.5" height="10.5" fill="rgb(48,48,48)"/>
<rect x="20" y="100" width="10.5" height="10.5" fill="rgb(48,48,48)"/>
<rect x="30" y="100" width="10.5" height="10.5" fill="rgb(54,54,54)"/>
<rect x="40" y="100" width="10.5" height="10.5" fill="rgb(54,54,54)"/>
<rect x="50" y="100" width="10.5" height="10.5" fill="rgb(16,16,16)"/>
<rect x="60" y="100" width="10.5" height="10.5" fill="rgb(20,20,20)"/>
<rect x="70" y="100" width="10.5" height="10.5" fill="rgb(12,12,12)"/>
<rect x="80" y="100" width="10.5" height="10.5" fill="rgb(25,25,25)"/>
<rect x="90" y="100" width="10.5" height="10.5" fill="rgb(9,9,9)"/>
<rect x="100" y="100" width="10.5" height="10.5" fill="rgb(8,8,8)"/>
<rect x="110" y="100" width="10.5" height="10.5" fill="rgb(8,8,8)"/>
<rect x="120" y="100" width="10.5" height="10.5" fill="rgb(8,8,8)"/>
<rect x="130" y="100" width="10.5" height="10.5" fill="rgb(8,8,8)"/>
<rect x="140" y="100" width="10.5" height="10.5" fill="rgb(8,8,8)"/>
<rect x="150" y="100" width="10.5" height="10.5" fill="rgb(8,8,8)"/>
<rect x="160" y="100" width="10.5" height="10.5" fill="rgb(8,8,8)"/>
<rect x="-10" y="110" width="10.5" height="10.5" fill="rgb(37,37,37)"/>
<rect x="0" y="110" width="10.5" height="10.5" fill="rgb(37,37,37)"/>
<rect x="10" y="110" width="10.5" height="10.5" fill="rgb(48,48,48)"/>
<rect x="20" y="110" width="10.5" height="10.5" fill="rgb(48,48,48)"/>
<rect x="30" y="110" width="10.5" height="10.5" fill="rgb(54,54,54)"/>
<rect x="40" y="110" width="10.5" height="10.5" fill="rgb(54,54,54)"/>
<rect x="50" y="110" width="10.5" height="10.5" fill="rgb(20,20,20)"/>
<rect x="60" y="110" width="10.5" height="10.5" fill="rgb(9,9,9)"/>
<rect x="70" y="110" width="10.5" height="10.5" fill="rgb(8,8,8)"/>
<rect x="80" y="110" width="10.5" height="10.5" fill="rgb(8,8,8)"/>
<rect x="90" y="110" width="10.5" height="10.5" fill="rgb(8,8,8)"/>
<rect x="100" y="110" width="10.5" height="10.5" fill="rgb(8,8,8)"/>
<rect x="110" y="110" width="10.5" height="10.5" fill="rgb(8,8,8)"/>
<rect x="120" y="110" width="10.5" height="10.5" fill="rgb(8,8,8)"/>
<rect x="130" y="110" width="10.5" height="10.5" fill="rgb(8,8,8)"/>
<rect x="140" y="110" width="10.5" height="10.5" fill="rgb(8,8,8)"/>
<rect x="150" y="110" width="10.5" height="10.5" fill="rgb(8,8,8)"/>
<rect x="160" y="110" width="10.5" height="10.5" fill="rgb(8,8,8)"/>
<rect x="-10" y="120" width="10.5" height="10.5" fill="rgb(37,37,37)"/>
<rect x="0" y="120" width="10.5" height="10.5" fill="rgb(37,37,37)"/>
<rect x="10" y="120" width="10.5" height="10.5" fill="rgb(48,48,48)"/>
<rect x="20" y="120" width="10.5" height="10.5" fill="rgb(48,48,48)"/>
<rect x="30" y="120" width="10.5" height="10.5" fill="rgb(54,54,54)"/>
<rect x="40" y="120" width="10.5" height="10.5" fill="rgb(54,54,54)"/>
<rect x="50" y="120" width="10.5" height="10.5" fill="rgb(48,48,48)"/>
<rect x="60" y="120" width="10.5" height="10.5" fill="rgb(8,8,8)"/>
<rect x="70" y="120" width="10.5" height="10.5" fill="rgb(8,8,8)"/>
<rect x="80" y="120" width="10.5" height="10.5" fill="rgb(8,8,8)"/>
<rect x="90" y="120" width="10.5" height="10.5" fill="rgb(8,8,8)"/>
<rect x="100" y="120" width="10.5" height="10.5" fill="rgb(8,8,8)"/>
<rect x="110" y="120" width="10.5" height="10.5" fill="rgb(8,8,8)"/>
<rect x="120" y="120" width="10.5" height="10.5" fill="rgb(8,8,8)"/>
<rect x="130" y="120" width="10.5" height="10.5" fill="rgb(12,12,12)"/>
<rect x="140" y="120" width="10.5" height="10.5" fill="rgb(25,25,25)"/>
<rect x="150" y="120" width="10.5" height="10.5" fill="rgb(37,37,37)"/>
<rect x="160" y="120" width="10.5" height="10.5" fill="rgb(37,37,37)"/>
<rect x="-10" y="130" width="10.5" height="10.5" fill="rgb(37,37,37)"/>
<rect x="0" y="130" width="10.5" height="10.5" fill="rgb(37,37,37)"/>
<rect x="10" y="130" width="10.5" height="10.5" fill="rgb(48,48,48)"/>
<rect x="20" y="130" width="10.5" height="10.5" fill="rgb(48,48,48)"/>
<rect x="30" y="130" width="10.5" height="10.5" fill="rgb(48,48,48)"/>
<rect x="40" y="130" width="10.5" height="10.5" fill="rgb(48,48,48)"/>
<rect x="50" y="130" width="10.5" height="10.5" fill="rgb(54,54,54)"/>
<rect x="60" y="130" width="10.5" height="10.5" fill="rgb(16,16,16)"/>
<rect x="70" y="130" width="10.5" height="10.5" fill="rgb(8,8,8)"/>
<rect x="80" y="130" width="10.5" height="10.5" fill="rgb(8,8,8)"/>
<rect x="90" y="130" width="10.5" height="10.5" fill="rgb(8,8,8)"/>
<rect x="100" y="130" width="10.5" height="10.5" fill="rgb(12,12,12)"/>
<rect x="110" y="130" width="10.5" height="10.5" fill="rgb(20,20,20)"/>
<rect x="120" y="130" width="10.5" height="10.5" fill="rgb(25,25,25)"/>
<rect x="130" y="130" width="10.5" height="10.5" fill="rgb(37,37,37)"/>
<rect x="140" y="130" width="10.5" height="10.5" fill="rgb(42,42,42)"/>
<rect x="150" y="130" width="10.5" height="10.5" fill="rgb(42,42,42)"/>
<rect x="160" y="130" width="10.5" height="10.5" fill="rgb(42,42,42)"/>
<rect x="-10" y="140" width="10.5" height="10.5" fill="rgb(37,37,37)"/>
<rect x="0" y="140" width="10.5" height="10.5" fill="rgb(37,37,37)"/>
<rect x="10" y="140" width="10.5" height="10.5" fill="rgb(48,48,48)"/>
<rect x="20" y="140" width="10.5" height="10.5" fill="rgb(48,48,48)"/>
<rect x="30" y="140" width="10.5" height="10.5" fill="rgb(48,48,48)"/>
<rect x="40" y="140" width="10.5" height="10.5" fill="rgb(48,48,48)"/>
<rect x="50" y="140" width="10.5" height="10.5" fill="rgb(54,54,54)"/>
<rect x="60" y="140" width="10.5" height="10.5" fill="rgb(16,16,16)"/>
<rect x="70" y="140" width="10.5" height="10.5" fill="rgb(8,8,8)"/>
<rect x="80" y="140" width="10.5" height="10.5" fill="rgb(8,8,8)"/>
<rect x="90" y="140" width="10.5" height="10.5" fill="rgb(8,8,8)"/>
<rect x="100" y="140" width="10.5" height="10.5" fill="rgb(12,12,12)"/>
<rect x="110" y="140" width="10.5" height="10.5" fill="rgb(20,20,20)"/>
<rect x="120" y="140" width="10.5" height="10.5" fill="rgb(25,25,25)"/>
<rect x="130" y="140" width="10.5" height="10.5" fill="rgb(37,37,37)"/>
<rect x="140" y="140" width="10.5" height="10.5" fill="rgb(42,42,42)"/>
<rect x="150" y="140" width="10.5" height="10.5" fill="rgb(42,42,42)"/>
<rect x="160" y="140" width="10.5" height="10.5" fill="rgb(42,42,42)"/>
</g>
<ellipse cx="30" cy="37" rx="6" ry="5" fill="rgb(12,12,12)" filter="url(#bl2)"/>
<ellipse cx="47" cy="57" rx="8" ry="11" fill="rgb(10,10,10)" filter="url(#bl2)"/>
<path d="M27,29 L45,20.5 L64,13" fill="none" stroke="rgb(14,14,14)" stroke-width="5.5" stroke-linecap="round" stroke-opacity="0.85" filter="url(#bl2)"/>
<ellipse cx="12.5" cy="36.5" rx="3.5" ry="3.5" fill="rgb(120,120,120)" filter="url(#bl2)"/>
<ellipse cx="26" cy="46" rx="3.5" ry="5" fill="rgb(85,85,85)" filter="url(#bl2)"/>
<ellipse cx="53" cy="34" rx="5" ry="5" fill="rgb(85,85,85)" filter="url(#bl2)"/>
<ellipse cx="58" cy="45" rx="5" ry="4" fill="rgb(95,95,95)" filter="url(#bl2)"/>
<ellipse cx="75" cy="40" rx="5" ry="9" fill="rgb(100,100,100)" filter="url(#bl2)"/>
<ellipse cx="62" cy="59" rx="4" ry="4" fill="rgb(85,85,85)" filter="url(#bl2)"/>
</g>
</g>
<text x="6.6" y="15.2" font-size="12.6" font-weight="bold" fill="#f4f4f4" font-family="'Liberation Sans', Arial, sans-serif" textLength="11.8" lengthAdjust="spacingAndGlyphs">d)</text>
<text x="124.7" y="15.2" font-size="12.2" font-weight="bold" fill="#f4f4f4" font-family="'Liberation Sans', Arial, sans-serif" textLength="25.8" lengthAdjust="spacingAndGlyphs">C 1s</text>
<text x="12.2" y="123.6" font-size="10.2" font-weight="bold" fill="#f2f2f2" font-family="'Liberation Sans', Arial, sans-serif" textLength="31.8" lengthAdjust="spacingAndGlyphs">10 µm</text>
<rect x="11.799999999999999" y="126.8" width="31.4" height="1.5" fill="#f2f2f2"/>
<rect x="0" y="0" width="157.4" height="136.2" fill="none" stroke="#c8c8c8" stroke-width="1.1"/>
</g>
<g transform="translate(202.9,330.6)">
<g clip-path="url(#clipe)"><g filter="url(#tex)">
<g filter="url(#gb)">
<rect x="-10" y="-10" width="10.5" height="10.5" fill="rgb(73,73,73)"/>
<rect x="0" y="-10" width="10.5" height="10.5" fill="rgb(73,73,73)"/>
<rect x="10" y="-10" width="10.5" height="10.5" fill="rgb(73,73,73)"/>
<rect x="20" y="-10" width="10.5" height="10.5" fill="rgb(73,73,73)"/>
<rect x="30" y="-10" width="10.5" height="10.5" fill="rgb(73,73,73)"/>
<rect x="40" y="-10" width="10.5" height="10.5" fill="rgb(73,73,73)"/>
<rect x="50" y="-10" width="10.5" height="10.5" fill="rgb(73,73,73)"/>
<rect x="60" y="-10" width="10.5" height="10.5" fill="rgb(73,73,73)"/>
<rect x="70" y="-10" width="10.5" height="10.5" fill="rgb(73,73,73)"/>
<rect x="80" y="-10" width="10.5" height="10.5" fill="rgb(125,125,125)"/>
<rect x="90" y="-10" width="10.5" height="10.5" fill="rgb(125,125,125)"/>
<rect x="100" y="-10" width="10.5" height="10.5" fill="rgb(125,125,125)"/>
<rect x="110" y="-10" width="10.5" height="10.5" fill="rgb(112,112,112)"/>
<rect x="120" y="-10" width="10.5" height="10.5" fill="rgb(48,48,48)"/>
<rect x="130" y="-10" width="10.5" height="10.5" fill="rgb(14,14,14)"/>
<rect x="140" y="-10" width="10.5" height="10.5" fill="rgb(12,12,12)"/>
<rect x="150" y="-10" width="10.5" height="10.5" fill="rgb(12,12,12)"/>
<rect x="160" y="-10" width="10.5" height="10.5" fill="rgb(12,12,12)"/>
<rect x="-10" y="0" width="10.5" height="10.5" fill="rgb(73,73,73)"/>
<rect x="0" y="0" width="10.5" height="10.5" fill="rgb(73,73,73)"/>
<rect x="10" y="0" width="10.5" height="10.5" fill="rgb(73,73,73)"/>
<rect x="20" y="0" width="10.5" height="10.5" fill="rgb(73,73,73)"/>
<rect x="30" y="0" width="10.5" height="10.5" fill="rgb(73,73,73)"/>
<rect x="40" y="0" width="10.5" height="10.5" fill="rgb(73,73,73)"/>
<rect x="50" y="0" width="10.5" height="10.5" fill="rgb(73,73,73)"/>
<rect x="60" y="0" width="10.5" height="10.5" fill="rgb(73,73,73)"/>
<rect x="70" y="0" width="10.5" height="10.5" fill="rgb(73,73,73)"/>
<rect x="80" y="0" width="10.5" height="10.5" fill="rgb(125,125,125)"/>
<rect x="90" y="0" width="10.5" height="10.5" fill="rgb(125,125,125)"/>
<rect x="100" y="0" width="10.5" height="10.5" fill="rgb(125,125,125)"/>
<rect x="110" y="0" width="10.5" height="10.5" fill="rgb(112,112,112)"/>
<rect x="120" y="0" width="10.5" height="10.5" fill="rgb(48,48,48)"/>
<rect x="130" y="0" width="10.5" height="10.5" fill="rgb(14,14,14)"/>
<rect x="140" y="0" width="10.5" height="10.5" fill="rgb(12,12,12)"/>
<rect x="150" y="0" width="10.5" height="10.5" fill="rgb(12,12,12)"/>
<rect x="160" y="0" width="10.5" height="10.5" fill="rgb(12,12,12)"/>
<rect x="-10" y="10" width="10.5" height="10.5" fill="rgb(73,73,73)"/>
<rect x="0" y="10" width="10.5" height="10.5" fill="rgb(73,73,73)"/>
<rect x="10" y="10" width="10.5" height="10.5" fill="rgb(73,73,73)"/>
<rect x="20" y="10" width="10.5" height="10.5" fill="rgb(60,60,60)"/>
<rect x="30" y="10" width="10.5" height="10.5" fill="rgb(48,48,48)"/>
<rect x="40" y="10" width="10.5" height="10.5" fill="rgb(37,37,37)"/>
<rect x="50" y="10" width="10.5" height="10.5" fill="rgb(37,37,37)"/>
<rect x="60" y="10" width="10.5" height="10.5" fill="rgb(42,42,42)"/>
<rect x="70" y="10" width="10.5" height="10.5" fill="rgb(60,60,60)"/>
<rect x="80" y="10" width="10.5" height="10.5" fill="rgb(138,138,138)"/>
<rect x="90" y="10" width="10.5" height="10.5" fill="rgb(125,125,125)"/>
<rect x="100" y="10" width="10.5" height="10.5" fill="rgb(138,138,138)"/>
<rect x="110" y="10" width="10.5" height="10.5" fill="rgb(112,112,112)"/>
<rect x="120" y="10" width="10.5" height="10.5" fill="rgb(60,60,60)"/>
<rect x="130" y="10" width="10.5" height="10.5" fill="rgb(12,12,12)"/>
<rect x="140" y="10" width="10.5" height="10.5" fill="rgb(9,9,9)"/>
<rect x="150" y="10" width="10.5" height="10.5" fill="rgb(9,9,9)"/>
<rect x="160" y="10" width="10.5" height="10.5" fill="rgb(9,9,9)"/>
<rect x="-10" y="20" width="10.5" height="10.5" fill="rgb(73,73,73)"/>
<rect x="0" y="20" width="10.5" height="10.5" fill="rgb(73,73,73)"/>
<rect x="10" y="20" width="10.5" height="10.5" fill="rgb(60,60,60)"/>
<rect x="20" y="20" width="10.5" height="10.5" fill="rgb(54,54,54)"/>
<rect x="30" y="20" width="10.5" height="10.5" fill="rgb(37,37,37)"/>
<rect x="40" y="20" width="10.5" height="10.5" fill="rgb(25,25,25)"/>
<rect x="50" y="20" width="10.5" height="10.5" fill="rgb(25,25,25)"/>
<rect x="60" y="20" width="10.5" height="10.5" fill="rgb(99,99,99)"/>
<rect x="70" y="20" width="10.5" height="10.5" fill="rgb(125,125,125)"/>
<rect x="80" y="20" width="10.5" height="10.5" fill="rgb(151,151,151)"/>
<rect x="90" y="20" width="10.5" height="10.5" fill="rgb(138,138,138)"/>
<rect x="100" y="20" width="10.5" height="10.5" fill="rgb(138,138,138)"/>
<rect x="110" y="20" width="10.5" height="10.5" fill="rgb(125,125,125)"/>
<rect x="120" y="20" width="10.5" height="10.5" fill="rgb(125,125,125)"/>
<rect x="130" y="20" width="10.5" height="10.5" fill="rgb(16,16,16)"/>
<rect x="140" y="20" width="10.5" height="10.5" fill="rgb(9,9,9)"/>
<rect x="150" y="20" width="10.5" height="10.5" fill="rgb(9,9,9)"/>
<rect x="160" y="20" width="10.5" height="10.5" fill="rgb(9,9,9)"/>
<rect x="-10" y="30" width="10.5" height="10.5" fill="rgb(73,73,73)"/>
<rect x="0" y="30" width="10.5" height="10.5" fill="rgb(73,73,73)"/>
<rect x="10" y="30" width="10.5" height="10.5" fill="rgb(125,125,125)"/>
<rect x="20" y="30" width="10.5" height="10.5" fill="rgb(54,54,54)"/>
<rect x="30" y="30" width="10.5" height="10.5" fill="rgb(125,125,125)"/>
<rect x="40" y="30" width="10.5" height="10.5" fill="rgb(138,138,138)"/>
<rect x="50" y="30" width="10.5" height="10.5" fill="rgb(138,138,138)"/>
<rect x="60" y="30" width="10.5" height="10.5" fill="rgb(125,125,125)"/>
<rect x="70" y="30" width="10.5" height="10.5" fill="rgb(112,112,112)"/>
<rect x="80" y="30" width="10.5" height="10.5" fill="rgb(138,138,138)"/>
<rect x="90" y="30" width="10.5" height="10.5" fill="rgb(125,125,125)"/>
<rect x="100" y="30" width="10.5" height="10.5" fill="rgb(99,99,99)"/>
<rect x="110" y="30" width="10.5" height="10.5" fill="rgb(54,54,54)"/>
<rect x="120" y="30" width="10.5" height="10.5" fill="rgb(37,37,37)"/>
<rect x="130" y="30" width="10.5" height="10.5" fill="rgb(9,9,9)"/>
<rect x="140" y="30" width="10.5" height="10.5" fill="rgb(9,9,9)"/>
<rect x="150" y="30" width="10.5" height="10.5" fill="rgb(9,9,9)"/>
<rect x="160" y="30" width="10.5" height="10.5" fill="rgb(9,9,9)"/>
<rect x="-10" y="40" width="10.5" height="10.5" fill="rgb(73,73,73)"/>
<rect x="0" y="40" width="10.5" height="10.5" fill="rgb(73,73,73)"/>
<rect x="10" y="40" width="10.5" height="10.5" fill="rgb(99,99,99)"/>
<rect x="20" y="40" width="10.5" height="10.5" fill="rgb(54,54,54)"/>
<rect x="30" y="40" width="10.5" height="10.5" fill="rgb(99,99,99)"/>
<rect x="40" y="40" width="10.5" height="10.5" fill="rgb(37,37,37)"/>
<rect x="50" y="40" width="10.5" height="10.5" fill="rgb(112,112,112)"/>
<rect x="60" y="40" width="10.5" height="10.5" fill="rgb(125,125,125)"/>
<rect x="70" y="40" width="10.5" height="10.5" fill="rgb(125,125,125)"/>
<rect x="80" y="40" width="10.5" height="10.5" fill="rgb(112,112,112)"/>
<rect x="90" y="40" width="10.5" height="10.5" fill="rgb(125,125,125)"/>
<rect x="100" y="40" width="10.5" height="10.5" fill="rgb(112,112,112)"/>
<rect x="110" y="40" width="10.5" height="10.5" fill="rgb(31,31,31)"/>
<rect x="120" y="40" width="10.5" height="10.5" fill="rgb(73,73,73)"/>
<rect x="130" y="40" width="10.5" height="10.5" fill="rgb(9,9,9)"/>
<rect x="140" y="40" width="10.5" height="10.5" fill="rgb(9,9,9)"/>
<rect x="150" y="40" width="10.5" height="10.5" fill="rgb(9,9,9)"/>
<rect x="160" y="40" width="10.5" height="10.5" fill="rgb(9,9,9)"/>
<rect x="-10" y="50" width="10.5" height="10.5" fill="rgb(73,73,73)"/>
<rect x="0" y="50" width="10.5" height="10.5" fill="rgb(73,73,73)"/>
<rect x="10" y="50" width="10.5" height="10.5" fill="rgb(60,60,60)"/>
<rect x="20" y="50" width="10.5" height="10.5" fill="rgb(60,60,60)"/>
<rect x="30" y="50" width="10.5" height="10.5" fill="rgb(48,48,48)"/>
<rect x="40" y="50" width="10.5" height="10.5" fill="rgb(16,16,16)"/>
<rect x="50" y="50" width="10.5" height="10.5" fill="rgb(31,31,31)"/>
<rect x="60" y="50" width="10.5" height="10.5" fill="rgb(112,112,112)"/>
<rect x="70" y="50" width="10.5" height="10.5" fill="rgb(138,138,138)"/>
<rect x="80" y="50" width="10.5" height="10.5" fill="rgb(151,151,151)"/>
<rect x="90" y="50" width="10.5" height="10.5" fill="rgb(112,112,112)"/>
<rect x="100" y="50" width="10.5" height="10.5" fill="rgb(54,54,54)"/>
<rect x="110" y="50" width="10.5" height="10.5" fill="rgb(25,25,25)"/>
<rect x="120" y="50" width="10.5" height="10.5" fill="rgb(60,60,60)"/>
<rect x="130" y="50" width="10.5" height="10.5" fill="rgb(12,12,12)"/>
<rect x="140" y="50" width="10.5" height="10.5" fill="rgb(9,9,9)"/>
<rect x="150" y="50" width="10.5" height="10.5" fill="rgb(9,9,9)"/>
<rect x="160" y="50" width="10.5" height="10.5" fill="rgb(9,9,9)"/>
<rect x="-10" y="60" width="10.5" height="10.5" fill="rgb(73,73,73)"/>
<rect x="0" y="60" width="10.5" height="10.5" fill="rgb(73,73,73)"/>
<rect x="10" y="60" width="10.5" height="10.5" fill="rgb(60,60,60)"/>
<rect x="20" y="60" width="10.5" height="10.5" fill="rgb(60,60,60)"/>
<rect x="30" y="60" width="10.5" height="10.5" fill="rgb(48,48,48)"/>
<rect x="40" y="60" width="10.5" height="10.5" fill="rgb(12,12,12)"/>
<rect x="50" y="60" width="10.5" height="10.5" fill="rgb(25,25,25)"/>
<rect x="60" y="60" width="10.5" height="10.5" fill="rgb(99,99,99)"/>
<rect x="70" y="60" width="10.5" height="10.5" fill="rgb(138,138,138)"/>
<rect x="80" y="60" width="10.5" height="10.5" fill="rgb(138,138,138)"/>
<rect x="90" y="60" width="10.5" height="10.5" fill="rgb(86,86,86)"/>
<rect x="100" y="60" width="10.5" height="10.5" fill="rgb(20,20,20)"/>
<rect x="110" y="60" width="10.5" height="10.5" fill="rgb(16,16,16)"/>
<rect x="120" y="60" width="10.5" height="10.5" fill="rgb(20,20,20)"/>
<rect x="130" y="60" width="10.5" height="10.5" fill="rgb(9,9,9)"/>
<rect x="140" y="60" width="10.5" height="10.5" fill="rgb(9,9,9)"/>
<rect x="150" y="60" width="10.5" height="10.5" fill="rgb(9,9,9)"/>
<rect x="160" y="60" width="10.5" height="10.5" fill="rgb(9,9,9)"/>
<rect x="-10" y="70" width="10.5" height="10.5" fill="rgb(60,60,60)"/>
<rect x="0" y="70" width="10.5" height="10.5" fill="rgb(60,60,60)"/>
<rect x="10" y="70" width="10.5" height="10.5" fill="rgb(60,60,60)"/>
<rect x="20" y="70" width="10.5" height="10.5" fill="rgb(60,60,60)"/>
<rect x="30" y="70" width="10.5" height="10.5" fill="rgb(31,31,31)"/>
<rect x="40" y="70" width="10.5" height="10.5" fill="rgb(12,12,12)"/>
<rect x="50" y="70" width="10.5" height="10.5" fill="rgb(25,25,25)"/>
<rect x="60" y="70" width="10.5" height="10.5" fill="rgb(112,112,112)"/>
<rect x="70" y="70" width="10.5" height="10.5" fill="rgb(125,125,125)"/>
<rect x="80" y="70" width="10.5" height="10.5" fill="rgb(164,164,164)"/>
<rect x="90" y="70" width="10.5" height="10.5" fill="rgb(86,86,86)"/>
<rect x="100" y="70" width="10.5" height="10.5" fill="rgb(20,20,20)"/>
<rect x="110" y="70" width="10.5" height="10.5" fill="rgb(12,12,12)"/>
<rect x="120" y="70" width="10.5" height="10.5" fill="rgb(37,37,37)"/>
<rect x="130" y="70" width="10.5" height="10.5" fill="rgb(31,31,31)"/>
<rect x="140" y="70" width="10.5" height="10.5" fill="rgb(20,20,20)"/>
<rect x="150" y="70" width="10.5" height="10.5" fill="rgb(16,16,16)"/>
<rect x="160" y="70" width="10.5" height="10.5" fill="rgb(16,16,16)"/>
<rect x="-10" y="80" width="10.5" height="10.5" fill="rgb(60,60,60)"/>
<rect x="0" y="80" width="10.5" height="10.5" fill="rgb(60,60,60)"/>
<rect x="10" y="80" width="10.5" height="10.5" fill="rgb(60,60,60)"/>
<rect x="20" y="80" width="10.5" height="10.5" fill="rgb(60,60,60)"/>
<rect x="30" y="80" width="10.5" height="10.5" fill="rgb(25,25,25)"/>
<rect x="40" y="80" width="10.5" height="10.5" fill="rgb(12,12,12)"/>
<rect x="50" y="80" width="10.5" height="10.5" fill="rgb(42,42,42)"/>
<rect x="60" y="80" width="10.5" height="10.5" fill="rgb(86,86,86)"/>
<rect x="70" y="80" width="10.5" height="10.5" fill="rgb(151,151,151)"/>
<rect x="80" y="80" width="10.5" height="10.5" fill="rgb(125,125,125)"/>
<rect x="90" y="80" width="10.5" height="10.5" fill="rgb(60,60,60)"/>
<rect x="100" y="80" width="10.5" height="10.5" fill="rgb(16,16,16)"/>
<rect x="110" y="80" width="10.5" height="10.5" fill="rgb(12,12,12)"/>
<rect x="120" y="80" width="10.5" height="10.5" fill="rgb(42,42,42)"/>
<rect x="130" y="80" width="10.5" height="10.5" fill="rgb(73,73,73)"/>
<rect x="140" y="80" width="10.5" height="10.5" fill="rgb(86,86,86)"/>
<rect x="150" y="80" width="10.5" height="10.5" fill="rgb(42,42,42)"/>
<rect x="160" y="80" width="10.5" height="10.5" fill="rgb(42,42,42)"/>
<rect x="-10" y="90" width="10.5" height="10.5" fill="rgb(60,60,60)"/>
<rect x="0" y="90" width="10.5" height="10.5" fill="rgb(60,60,60)"/>
<rect x="10" y="90" width="10.5" height="10.5" fill="rgb(60,60,60)"/>
<rect x="20" y="90" width="10.5" height="10.5" fill="rgb(60,60,60)"/>
<rect x="30" y="90" width="10.5" height="10.5" fill="rgb(31,31,31)"/>
<rect x="40" y="90" width="10.5" height="10.5" fill="rgb(20,20,20)"/>
<rect x="50" y="90" width="10.5" height="10.5" fill="rgb(42,42,42)"/>
<rect x="60" y="90" width="10.5" height="10.5" fill="rgb(60,60,60)"/>
<rect x="70" y="90" width="10.5" height="10.5" fill="rgb(86,86,86)"/>
<rect x="80" y="90" width="10.5" height="10.5" fill="rgb(112,112,112)"/>
<rect x="90" y="90" width="10.5" height="10.5" fill="rgb(54,54,54)"/>
<rect x="100" y="90" width="10.5" height="10.5" fill="rgb(12,12,12)"/>
<rect x="110" y="90" width="10.5" height="10.5" fill="rgb(12,12,12)"/>
<rect x="120" y="90" width="10.5" height="10.5" fill="rgb(37,37,37)"/>
<rect x="130" y="90" width="10.5" height="10.5" fill="rgb(25,25,25)"/>
<rect x="140" y="90" width="10.5" height="10.5" fill="rgb(31,31,31)"/>
<rect x="150" y="90" width="10.5" height="10.5" fill="rgb(20,20,20)"/>
<rect x="160" y="90" width="10.5" height="10.5" fill="rgb(20,20,20)"/>
<rect x="-10" y="100" width="10.5" height="10.5" fill="rgb(60,60,60)"/>
<rect x="0" y="100" width="10.5" height="10.5" fill="rgb(60,60,60)"/>
<rect x="10" y="100" width="10.5" height="10.5" fill="rgb(60,60,60)"/>
<rect x="20" y="100" width="10.5" height="10.5" fill="rgb(60,60,60)"/>
<rect x="30" y="100" width="10.5" height="10.5" fill="rgb(54,54,54)"/>
<rect x="40" y="100" width="10.5" height="10.5" fill="rgb(42,42,42)"/>
<rect x="50" y="100" width="10.5" height="10.5" fill="rgb(54,54,54)"/>
<rect x="60" y="100" width="10.5" height="10.5" fill="rgb(86,86,86)"/>
<rect x="70" y="100" width="10.5" height="10.5" fill="rgb(48,48,48)"/>
<rect x="80" y="100" width="10.5" height="10.5" fill="rgb(42,42,42)"/>
<rect x="90" y="100" width="10.5" height="10.5" fill="rgb(31,31,31)"/>
<rect x="100" y="100" width="10.5" height="10.5" fill="rgb(12,12,12)"/>
<rect x="110" y="100" width="10.5" height="10.5" fill="rgb(9,9,9)"/>
<rect x="120" y="100" width="10.5" height="10.5" fill="rgb(12,12,12)"/>
<rect x="130" y="100" width="10.5" height="10.5" fill="rgb(9,9,9)"/>
<rect x="140" y="100" width="10.5" height="10.5" fill="rgb(9,9,9)"/>
<rect x="150" y="100" width="10.5" height="10.5" fill="rgb(9,9,9)"/>
<rect x="160" y="100" width="10.5" height="10.5" fill="rgb(9,9,9)"/>
<rect x="-10" y="110" width="10.5" height="10.5" fill="rgb(54,54,54)"/>
<rect x="0" y="110" width="10.5" height="10.5" fill="rgb(54,54,54)"/>
<rect x="10" y="110" width="10.5" height="10.5" fill="rgb(60,60,60)"/>
<rect x="20" y="110" width="10.5" height="10.5" fill="rgb(60,60,60)"/>
<rect x="30" y="110" width="10.5" height="10.5" fill="rgb(60,60,60)"/>
<rect x="40" y="110" width="10.5" height="10.5" fill="rgb(60,60,60)"/>
<rect x="50" y="110" width="10.5" height="10.5" fill="rgb(37,37,37)"/>
<rect x="60" y="110" width="10.5" height="10.5" fill="rgb(14,14,14)"/>
<rect x="70" y="110" width="10.5" height="10.5" fill="rgb(12,12,12)"/>
<rect x="80" y="110" width="10.5" height="10.5" fill="rgb(16,16,16)"/>
<rect x="90" y="110" width="10.5" height="10.5" fill="rgb(12,12,12)"/>
<rect x="100" y="110" width="10.5" height="10.5" fill="rgb(9,9,9)"/>
<rect x="110" y="110" width="10.5" height="10.5" fill="rgb(9,9,9)"/>
<rect x="120" y="110" width="10.5" height="10.5" fill="rgb(9,9,9)"/>
<rect x="130" y="110" width="10.5" height="10.5" fill="rgb(9,9,9)"/>
<rect x="140" y="110" width="10.5" height="10.5" fill="rgb(9,9,9)"/>
<rect x="150" y="110" width="10.5" height="10.5" fill="rgb(12,12,12)"/>
<rect x="160" y="110" width="10.5" height="10.5" fill="rgb(12,12,12)"/>
<rect x="-10" y="120" width="10.5" height="10.5" fill="rgb(54,54,54)"/>
<rect x="0" y="120" width="10.5" height="10.5" fill="rgb(54,54,54)"/>
<rect x="10" y="120" width="10.5" height="10.5" fill="rgb(60,60,60)"/>
<rect x="20" y="120" width="10.5" height="10.5" fill="rgb(60,60,60)"/>
<rect x="30" y="120" width="10.5" height="10.5" fill="rgb(60,60,60)"/>
<rect x="40" y="120" width="10.5" height="10.5" fill="rgb(60,60,60)"/>
<rect x="50" y="120" width="10.5" height="10.5" fill="rgb(48,48,48)"/>
<rect x="60" y="120" width="10.5" height="10.5" fill="rgb(12,12,12)"/>
<rect x="70" y="120" width="10.5" height="10.5" fill="rgb(12,12,12)"/>
<rect x="80" y="120" width="10.5" height="10.5" fill="rgb(12,12,12)"/>
<rect x="90" y="120" width="10.5" height="10.5" fill="rgb(12,12,12)"/>
<rect x="100" y="120" width="10.5" height="10.5" fill="rgb(9,9,9)"/>
<rect x="110" y="120" width="10.5" height="10.5" fill="rgb(9,9,9)"/>
<rect x="120" y="120" width="10.5" height="10.5" fill="rgb(9,9,9)"/>
<rect x="130" y="120" width="10.5" height="10.5" fill="rgb(12,12,12)"/>
<rect x="140" y="120" width="10.5" height="10.5" fill="rgb(20,20,20)"/>
<rect x="150" y="120" width="10.5" height="10.5" fill="rgb(31,31,31)"/>
<rect x="160" y="120" width="10.5" height="10.5" fill="rgb(31,31,31)"/>
<rect x="-10" y="130" width="10.5" height="10.5" fill="rgb(48,48,48)"/>
<rect x="0" y="130" width="10.5" height="10.5" fill="rgb(48,48,48)"/>
<rect x="10" y="130" width="10.5" height="10.5" fill="rgb(54,54,54)"/>
<rect x="20" y="130" width="10.5" height="10.5" fill="rgb(54,54,54)"/>
<rect x="30" y="130" width="10.5" height="10.5" fill="rgb(54,54,54)"/>
<rect x="40" y="130" width="10.5" height="10.5" fill="rgb(60,60,60)"/>
<rect x="50" y="130" width="10.5" height="10.5" fill="rgb(54,54,54)"/>
<rect x="60" y="130" width="10.5" height="10.5" fill="rgb(16,16,16)"/>
<rect x="70" y="130" width="10.5" height="10.5" fill="rgb(12,12,12)"/>
<rect x="80" y="130" width="10.5" height="10.5" fill="rgb(12,12,12)"/>
<rect x="90" y="130" width="10.5" height="10.5" fill="rgb(12,12,12)"/>
<rect x="100" y="130" width="10.5" height="10.5" fill="rgb(16,16,16)"/>
<rect x="110" y="130" width="10.5" height="10.5" fill="rgb(20,20,20)"/>
<rect x="120" y="130" width="10.5" height="10.5" fill="rgb(25,25,25)"/>
<rect x="130" y="130" width="10.5" height="10.5" fill="rgb(31,31,31)"/>
<rect x="140" y="130" width="10.5" height="10.5" fill="rgb(37,37,37)"/>
<rect x="150" y="130" width="10.5" height="10.5" fill="rgb(37,37,37)"/>
<rect x="160" y="130" width="10.5" height="10.5" fill="rgb(37,37,37)"/>
<rect x="-10" y="140" width="10.5" height="10.5" fill="rgb(48,48,48)"/>
<rect x="0" y="140" width="10.5" height="10.5" fill="rgb(48,48,48)"/>
<rect x="10" y="140" width="10.5" height="10.5" fill="rgb(54,54,54)"/>
<rect x="20" y="140" width="10.5" height="10.5" fill="rgb(54,54,54)"/>
<rect x="30" y="140" width="10.5" height="10.5" fill="rgb(54,54,54)"/>
<rect x="40" y="140" width="10.5" height="10.5" fill="rgb(60,60,60)"/>
<rect x="50" y="140" width="10.5" height="10.5" fill="rgb(54,54,54)"/>
<rect x="60" y="140" width="10.5" height="10.5" fill="rgb(16,16,16)"/>
<rect x="70" y="140" width="10.5" height="10.5" fill="rgb(12,12,12)"/>
<rect x="80" y="140" width="10.5" height="10.5" fill="rgb(12,12,12)"/>
<rect x="90" y="140" width="10.5" height="10.5" fill="rgb(12,12,12)"/>
<rect x="100" y="140" width="10.5" height="10.5" fill="rgb(16,16,16)"/>
<rect x="110" y="140" width="10.5" height="10.5" fill="rgb(20,20,20)"/>
<rect x="120" y="140" width="10.5" height="10.5" fill="rgb(25,25,25)"/>
<rect x="130" y="140" width="10.5" height="10.5" fill="rgb(31,31,31)"/>
<rect x="140" y="140" width="10.5" height="10.5" fill="rgb(37,37,37)"/>
<rect x="150" y="140" width="10.5" height="10.5" fill="rgb(37,37,37)"/>
<rect x="160" y="140" width="10.5" height="10.5" fill="rgb(37,37,37)"/>
</g>
</g>
</g>
<text x="6.6" y="15.6" font-size="12.6" font-weight="bold" fill="#f4f4f4" font-family="'Liberation Sans', Arial, sans-serif" textLength="11.8" lengthAdjust="spacingAndGlyphs">e)</text>
<text x="117.5" y="15.6" font-size="12.2" font-weight="bold" fill="#f4f4f4" font-family="'Liberation Sans', Arial, sans-serif" textLength="34.0" lengthAdjust="spacingAndGlyphs">Fe 3p</text>
<text x="11.9" y="123.9" font-size="10.2" font-weight="bold" fill="#f2f2f2" font-family="'Liberation Sans', Arial, sans-serif" textLength="31.8" lengthAdjust="spacingAndGlyphs">10 µm</text>
<rect x="11.5" y="127.10000000000001" width="31.4" height="1.5" fill="#f2f2f2"/>
<rect x="0" y="0" width="157.4" height="136.2" fill="none" stroke="#c8c8c8" stroke-width="1.1"/>
</g>
</svg></body></html>
